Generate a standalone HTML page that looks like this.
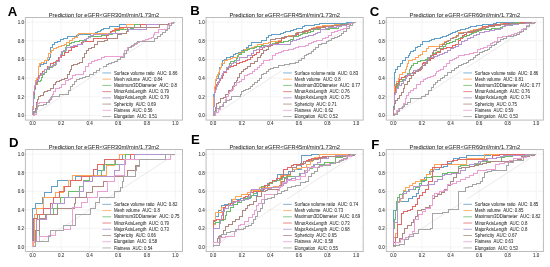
<!DOCTYPE html><html><head><meta charset="utf-8"><style>html,body{margin:0;padding:0;background:#fff;}svg{display:block;filter:blur(0.35px);}text{font-family:"Liberation Sans",sans-serif;}</style></head><body>
<svg width="550" height="267" viewBox="0 0 550 267">
<rect width="550" height="267" fill="#fff"/>
<g><line x1="32.54" y1="17.5" x2="32.54" y2="120.1" stroke="#ececec" stroke-width="0.6"/><line x1="25.4" y1="115.44" x2="182.5" y2="115.44" stroke="#ececec" stroke-width="0.6"/><line x1="61.1" y1="17.5" x2="61.1" y2="120.1" stroke="#ececec" stroke-width="0.6"/><line x1="25.4" y1="96.78" x2="182.5" y2="96.78" stroke="#ececec" stroke-width="0.6"/><line x1="89.67" y1="17.5" x2="89.67" y2="120.1" stroke="#ececec" stroke-width="0.6"/><line x1="25.4" y1="78.13" x2="182.5" y2="78.13" stroke="#ececec" stroke-width="0.6"/><line x1="118.23" y1="17.5" x2="118.23" y2="120.1" stroke="#ececec" stroke-width="0.6"/><line x1="25.4" y1="59.47" x2="182.5" y2="59.47" stroke="#ececec" stroke-width="0.6"/><line x1="146.8" y1="17.5" x2="146.8" y2="120.1" stroke="#ececec" stroke-width="0.6"/><line x1="25.4" y1="40.82" x2="182.5" y2="40.82" stroke="#ececec" stroke-width="0.6"/><line x1="175.36" y1="17.5" x2="175.36" y2="120.1" stroke="#ececec" stroke-width="0.6"/><line x1="25.4" y1="22.16" x2="182.5" y2="22.16" stroke="#ececec" stroke-width="0.6"/><line x1="32.54" y1="115.44" x2="175.36" y2="22.16" stroke="#dcdcdc" stroke-width="0.6"/><path d="M32.54,115.44 L32.66,115.44 L32.66,112.33 L32.9,112.33 L32.9,109.22 L33.14,109.22 L33.14,106.11 L33.25,106.11 L33.34,106.11 L33.34,103.31 L33.52,103.31 L33.52,100.51 L33.7,100.51 L33.7,97.71 L33.88,97.71 L33.88,94.92 L33.97,94.92 L34.15,94.92 L34.15,91.89 L34.5,91.89 L34.5,88.85 L34.86,88.85 L34.86,85.82 L35.22,85.82 L35.22,82.79 L35.4,82.79 L35.79,82.79 L35.79,80.46 L36.58,80.46 L36.58,78.13 L36.97,78.13 L37.75,78.13 L37.75,77.47 L38.54,77.47 L38.54,68.8 L38.9,68.8 L38.9,66.19 L39.25,66.19 L40.4,66.19 L40.4,64.7 L41.54,64.7 L43.04,64.7 L43.04,63.2 L44.54,63.2 L46.04,63.2 L46.04,60.97 L47.54,60.97 L48.61,60.97 L48.61,59.47 L49.68,59.47 L49.82,59.47 L49.82,57.14 L50.11,57.14 L50.11,54.81 L50.25,54.81 L50.25,50.15 L50.96,50.15 L50.96,47.16 L51.68,47.16 L52.61,47.16 L52.61,44.18 L53.54,44.18 L54.61,44.18 L54.61,42.68 L55.68,42.68 L57.18,42.68 L57.18,41.1 L58.68,41.1 L60.6,41.1 L60.6,39.61 L62.53,39.61 L63.96,39.61 L63.96,38.95 L65.39,38.95 L67.1,38.95 L67.1,36.9 L68.82,36.9 L70.6,36.9 L70.6,36.76 L74.17,36.76 L74.17,36.62 L75.96,36.62 L76.74,36.62 L76.74,35.59 L77.53,35.59 L78.6,35.59 L78.6,34.29 L79.67,34.29 L81.17,34.29 L81.17,34.21 L84.17,34.21 L84.17,34.14 L87.17,34.14 L87.17,34.07 L90.17,34.07 L90.17,33.99 L93.17,33.99 L93.17,33.92 L94.67,33.92 L95.1,33.92 L95.1,32.14 L95.52,32.14 L97.02,32.14 L97.02,31.4 L100.02,31.4 L100.02,30.65 L101.52,30.65 L101.52,29.16 L103.38,29.16 L103.38,28.79 L107.09,28.79 L107.09,28.41 L108.95,28.41 L109.31,28.41 L109.31,26.83 L109.66,26.83 L111.16,26.83 L111.16,26.61 L114.16,26.61 L114.16,26.39 L117.16,26.39 L117.16,26.17 L118.66,26.17 L119.09,26.17 L119.09,24.59 L119.52,24.59 L121.04,24.59 L121.04,24.58 L124.08,24.58 L124.08,24.57 L127.13,24.57 L127.13,24.55 L130.17,24.55 L130.17,24.54 L133.21,24.54 L133.21,24.53 L136.26,24.53 L136.26,24.52 L139.3,24.52 L139.3,24.51 L142.35,24.51 L142.35,24.5 L145.39,24.5 L145.39,24.48 L148.43,24.48 L148.43,24.47 L151.48,24.47 L151.48,24.46 L154.52,24.46 L154.52,24.45 L157.56,24.45 L157.56,24.44 L160.61,24.44 L160.61,24.43 L163.65,24.43 L163.65,24.41 L166.7,24.41 L166.7,24.4 L168.22,24.4 L168.93,24.4 L168.93,23.1 L169.65,23.1 L171.07,23.1 L171.07,22.63 L173.93,22.63 L173.93,22.16 L175.36,22.16" fill="none" stroke="#62a0ca" stroke-width="1.0" stroke-opacity="1.0" stroke-linejoin="miter" shape-rendering="crispEdges"/><path d="M32.54,115.44 L32.62,115.44 L32.62,112.5 L32.79,112.5 L32.79,109.57 L32.95,109.57 L32.95,106.64 L33.11,106.64 L33.11,103.71 L33.28,103.71 L33.28,100.78 L33.44,100.78 L33.44,97.85 L33.6,97.85 L33.6,94.92 L33.68,94.92 L33.83,94.92 L33.83,91.47 L34.11,91.47 L34.11,88.01 L34.25,88.01 L34.58,88.01 L34.58,85.4 L35.22,85.4 L35.22,82.79 L35.54,82.79 L35.9,82.79 L35.9,80.46 L36.61,80.46 L36.61,78.13 L36.97,78.13 L37.61,78.13 L37.61,77.47 L38.25,77.47 L38.3,77.47 L38.3,74.96 L38.4,74.96 L38.4,72.44 L38.49,72.44 L38.49,69.92 L38.54,69.92 L38.9,69.92 L38.9,66.19 L39.25,66.19 L39.97,66.19 L39.97,63.95 L40.68,63.95 L41.82,63.95 L41.82,62.46 L42.97,62.46 L44.89,62.46 L44.89,60.97 L46.82,60.97 L47.36,60.97 L47.36,57.98 L48.43,57.98 L48.43,55 L48.97,55 L48.97,53.13 L50.04,53.13 L50.04,52.48 L51.11,52.48 L51.89,52.48 L51.89,50.15 L52.68,50.15 L53.82,50.15 L53.82,48.65 L54.96,48.65 L56.11,48.65 L56.11,47.91 L57.25,47.91 L58.75,47.91 L58.75,46.41 L60.25,46.41 L61.53,46.41 L61.53,45.67 L64.1,45.67 L64.1,44.92 L65.39,44.92 L66.53,44.92 L66.53,42.68 L67.67,42.68 L69.6,42.68 L69.6,40.45 L71.53,40.45 L72.6,40.45 L72.6,38.95 L73.67,38.95 L74.82,38.95 L74.82,37.09 L75.96,37.09 L77.1,37.09 L77.1,34.48 L78.24,34.48 L78.24,33.92 L111.09,33.92 L111.81,33.92 L111.81,31.49 L112.52,31.49 L114.66,31.49 L114.66,28.97 L116.8,28.97 L118.23,28.97 L118.23,28.57 L121.09,28.57 L121.09,28.16 L123.94,28.16 L123.94,27.76 L125.37,27.76 L126.94,27.76 L126.94,24.59 L128.51,24.59 L130.04,24.59 L130.04,24.57 L133.1,24.57 L133.1,24.56 L136.15,24.56 L136.15,24.55 L139.2,24.55 L139.2,24.53 L142.26,24.53 L142.26,24.52 L145.31,24.52 L145.31,24.5 L148.37,24.5 L148.37,24.49 L151.42,24.49 L151.42,24.47 L154.47,24.47 L154.47,24.46 L157.53,24.46 L157.53,24.45 L160.58,24.45 L160.58,24.43 L163.64,24.43 L163.64,24.42 L166.69,24.42 L166.69,24.4 L168.22,24.4 L168.93,24.4 L168.93,23.1 L169.65,23.1 L171.07,23.1 L171.07,22.63 L173.93,22.63 L173.93,22.16 L175.36,22.16" fill="none" stroke="#ffa556" stroke-width="1.0" stroke-opacity="1.0" stroke-linejoin="miter" shape-rendering="crispEdges"/><path d="M32.54,115.44 L32.66,115.44 L32.66,112.56 L32.9,112.56 L32.9,109.67 L33.14,109.67 L33.14,106.79 L33.37,106.79 L33.37,103.91 L33.61,103.91 L33.61,101.03 L33.85,101.03 L33.85,98.15 L34.09,98.15 L34.09,95.27 L34.33,95.27 L34.33,92.39 L34.56,92.39 L34.56,89.51 L34.68,89.51 L35.08,89.51 L35.08,86.85 L35.86,86.85 L35.86,84.19 L36.25,84.19 L37.75,84.19 L37.75,81.95 L39.25,81.95 L40.4,81.95 L40.4,80.46 L41.54,80.46 L41.9,80.46 L41.9,77.43 L42.61,77.43 L42.61,74.4 L42.97,74.4 L44.11,74.4 L44.11,72.16 L46.39,72.16 L46.39,69.92 L47.54,69.92 L49.04,69.92 L49.04,67.68 L50.54,67.68 L52.04,67.68 L52.04,65.44 L53.54,65.44 L55.75,65.44 L55.75,61.71 L57.96,61.71 L59.11,61.71 L59.11,57.98 L60.25,57.98 L60.96,57.98 L60.96,54.62 L61.68,54.62 L62.82,54.62 L62.82,51.64 L63.96,51.64 L65.1,51.64 L65.1,47.91 L66.25,47.91 L66.96,47.91 L66.96,45.67 L67.67,45.67 L69.17,45.67 L69.17,43.43 L70.67,43.43 L71.82,43.43 L71.82,42.68 L74.1,42.68 L74.1,41.94 L75.24,41.94 L76.39,41.94 L76.39,41.19 L77.53,41.19 L79.39,41.19 L79.39,40.82 L83.1,40.82 L83.1,40.45 L84.96,40.45 L86.1,40.45 L86.1,38.53 L88.38,38.53 L88.38,36.62 L89.53,36.62 L99.95,36.62 L101.31,36.62 L101.31,35.97 L104.02,35.97 L104.02,35.32 L106.73,35.32 L106.73,34.66 L109.45,34.66 L109.45,34.01 L112.16,34.01 L112.16,33.36 L113.52,33.36 L115.38,33.36 L115.38,30.09 L117.23,30.09 L119.16,30.09 L119.16,29.16 L121.09,29.16 L128.51,29.16 L130.01,29.16 L130.01,28.41 L133.01,28.41 L133.01,27.67 L134.51,27.67 L134.51,24.59 L136.05,24.59 L136.05,24.57 L139.11,24.57 L139.11,24.55 L142.17,24.55 L142.17,24.54 L145.24,24.54 L145.24,24.52 L148.3,24.52 L148.3,24.5 L151.37,24.5 L151.37,24.49 L154.43,24.49 L154.43,24.47 L157.49,24.47 L157.49,24.45 L160.56,24.45 L160.56,24.44 L163.62,24.44 L163.62,24.42 L166.69,24.42 L166.69,24.4 L168.22,24.4 L168.93,24.4 L168.93,23.1 L169.65,23.1 L171.07,23.1 L171.07,22.63 L173.93,22.63 L173.93,22.16 L175.36,22.16" fill="none" stroke="#6bbc6b" stroke-width="1.0" stroke-opacity="1.0" stroke-linejoin="miter" shape-rendering="crispEdges"/><path d="M32.54,115.44 L32.64,115.44 L32.64,112.5 L32.85,112.5 L32.85,109.57 L33.05,109.57 L33.05,106.64 L33.25,106.64 L33.25,103.71 L33.46,103.71 L33.46,100.78 L33.66,100.78 L33.66,97.85 L33.87,97.85 L33.87,94.92 L33.97,94.92 L34.23,94.92 L34.23,91.59 L34.75,91.59 L34.75,88.26 L35.28,88.26 L35.28,84.94 L35.54,84.94 L36.08,84.94 L36.08,82 L37.15,82 L37.15,79.06 L37.68,79.06 L38.82,79.06 L38.82,75.98 L39.97,75.98 L40.72,75.98 L40.72,73.7 L42.22,73.7 L42.22,71.41 L42.97,71.41 L44.47,71.41 L44.47,69.17 L45.97,69.17 L47.11,69.17 L47.11,66.93 L48.25,66.93 L50.46,66.93 L50.46,63.95 L52.68,63.95 L53.82,63.95 L53.82,62.46 L56.11,62.46 L56.11,60.97 L57.25,60.97 L58.39,60.97 L58.39,57.23 L59.53,57.23 L61.03,57.23 L61.03,55 L62.53,55 L64.39,55 L64.39,52.48 L66.25,52.48 L68.1,52.48 L68.1,50.15 L69.96,50.15 L71.46,50.15 L71.46,47.91 L72.96,47.91 L74.46,47.91 L74.46,46.41 L75.96,46.41 L77.81,46.41 L77.81,44.92 L79.67,44.92 L81.17,44.92 L81.17,42.68 L82.67,42.68 L83.46,42.68 L83.46,41.19 L84.24,41.19 L93.24,41.19 L93.6,41.19 L93.6,38.95 L93.95,38.95 L95.45,38.95 L95.45,38.77 L98.45,38.77 L98.45,38.58 L101.45,38.58 L101.45,38.39 L104.45,38.39 L104.45,38.21 L105.95,38.21 L106.38,38.21 L106.38,35.22 L106.81,35.22 L108.66,35.22 L108.66,33.64 L110.52,33.64 L110.88,33.64 L110.88,31.49 L111.23,31.49 L112.61,31.49 L112.61,30.71 L115.38,30.71 L115.38,29.94 L118.14,29.94 L118.14,29.16 L119.52,29.16 L119.87,29.16 L119.87,27.67 L120.23,27.67 L140.51,27.67 L140.87,27.67 L140.87,24.59 L141.23,24.59 L142.73,24.59 L142.73,24.57 L145.72,24.57 L145.72,24.55 L148.72,24.55 L148.72,24.53 L151.72,24.53 L151.72,24.51 L154.72,24.51 L154.72,24.49 L157.72,24.49 L157.72,24.46 L160.72,24.46 L160.72,24.44 L163.72,24.44 L163.72,24.42 L166.72,24.42 L166.72,24.4 L168.22,24.4 L168.93,24.4 L168.93,23.1 L169.65,23.1 L171.07,23.1 L171.07,22.63 L173.93,22.63 L173.93,22.16 L175.36,22.16" fill="none" stroke="#e26868" stroke-width="1.0" stroke-opacity="1.0" stroke-linejoin="miter" shape-rendering="crispEdges"/><path d="M32.54,115.44 L32.64,115.44 L32.64,112.53 L32.83,112.53 L32.83,109.63 L33.02,109.63 L33.02,106.73 L33.21,106.73 L33.21,103.83 L33.4,103.83 L33.4,100.93 L33.59,100.93 L33.59,98.03 L33.78,98.03 L33.78,95.12 L33.97,95.12 L33.97,92.22 L34.16,92.22 L34.16,89.32 L34.25,89.32 L34.72,89.32 L34.72,86.06 L35.65,86.06 L35.65,82.79 L36.11,82.79 L36.83,82.79 L36.83,80.46 L38.25,80.46 L38.25,78.13 L38.97,78.13 L39.86,78.13 L39.86,75.8 L41.65,75.8 L41.65,73.46 L42.54,73.46 L44.68,73.46 L44.68,69.73 L46.82,69.73 L48.97,69.73 L48.97,66.93 L51.11,66.93 L53.25,66.93 L53.25,64.14 L55.39,64.14 L56.61,64.14 L56.61,61.06 L59.03,61.06 L59.03,57.98 L60.25,57.98 L60.6,57.98 L60.6,54.81 L61.32,54.81 L61.32,51.64 L61.68,51.64 L63.18,51.64 L63.18,50.15 L64.67,50.15 L66.6,50.15 L66.6,47.16 L68.53,47.16 L70.03,47.16 L70.03,46.41 L71.53,46.41 L73.74,46.41 L73.74,45.67 L75.96,45.67 L77.1,45.67 L77.1,44.92 L79.39,44.92 L79.39,44.18 L80.53,44.18 L82.03,44.18 L82.03,41.94 L83.53,41.94 L84.24,41.94 L84.24,39.61 L84.96,39.61 L86.45,39.61 L86.45,38.95 L87.95,38.95 L88.31,38.95 L88.31,37.46 L88.67,37.46 L90.17,37.46 L90.17,35.87 L93.17,35.87 L93.17,34.29 L94.67,34.29 L96.21,34.29 L96.21,34.22 L99.29,34.22 L99.29,34.16 L102.38,34.16 L102.38,34.09 L105.46,34.09 L105.46,34.03 L108.55,34.03 L108.55,33.96 L111.63,33.96 L111.63,33.9 L114.72,33.9 L114.72,33.83 L117.8,33.83 L117.8,33.77 L120.89,33.77 L120.89,33.7 L123.97,33.7 L123.97,33.64 L125.52,33.64 L126.23,33.64 L126.23,31.49 L126.94,31.49 L128.44,31.49 L128.44,29.16 L129.94,29.16 L146.22,29.16 L146.22,24.4 L168.22,24.4 L168.93,24.4 L168.93,23.1 L169.65,23.1 L171.07,23.1 L171.07,22.63 L173.93,22.63 L173.93,22.16 L175.36,22.16" fill="none" stroke="#b495d1" stroke-width="1.0" stroke-opacity="1.0" stroke-linejoin="miter" shape-rendering="crispEdges"/><path d="M32.54,115.44 L33.9,115.44 L33.9,111.24 L35.25,111.24 L35.58,111.24 L35.58,108.67 L36.22,108.67 L36.22,106.11 L36.54,106.11 L36.9,106.11 L36.9,102.01 L37.25,102.01 L37.58,102.01 L37.58,99.39 L38.22,99.39 L38.22,96.78 L38.54,96.78 L40.47,96.78 L40.47,95.48 L42.4,95.48 L43.04,95.48 L43.04,92.86 L43.68,92.86 L44.97,92.86 L44.97,91.47 L46.25,91.47 L47.97,91.47 L47.97,90.25 L49.68,90.25 L50.96,90.25 L50.96,88.39 L52.25,88.39 L53.61,88.39 L53.61,84.94 L54.96,84.94 L55.32,84.94 L55.32,82.79 L55.68,82.79 L56.82,82.79 L56.82,81.21 L57.96,81.21 L59.11,81.21 L59.11,80.13 L61.39,80.13 L61.39,79.06 L62.53,79.06 L64.67,79.06 L64.67,78.13 L66.82,78.13 L67.67,78.13 L67.67,74.4 L68.53,74.4 L69.07,74.4 L69.07,71.78 L70.14,71.78 L70.14,69.17 L70.67,69.17 L71.1,69.17 L71.1,65.44 L71.53,65.44 L73.74,65.44 L73.74,64.7 L75.96,64.7 L77.1,64.7 L77.1,63.58 L79.39,63.58 L79.39,62.46 L80.53,62.46 L82.03,62.46 L82.03,57.98 L83.53,57.98 L84.6,57.98 L84.6,53.88 L85.67,53.88 L86.45,53.88 L86.45,50.15 L87.24,50.15 L88.38,50.15 L88.38,48.65 L89.53,48.65 L91.02,48.65 L91.02,47.16 L92.52,47.16 L94.02,47.16 L94.02,44.18 L95.52,44.18 L97.02,44.18 L97.02,41.94 L98.52,41.94 L100.38,41.94 L100.38,41.19 L104.09,41.19 L104.09,40.45 L105.95,40.45 L107.45,40.45 L107.45,38.95 L108.95,38.95 L110.21,38.95 L110.21,38.7 L112.73,38.7 L112.73,38.46 L115.26,38.46 L115.26,38.21 L116.52,38.21 L117.23,38.21 L117.23,34.29 L117.95,34.29 L119.21,34.29 L119.21,34.07 L121.73,34.07 L121.73,33.85 L124.25,33.85 L124.25,33.64 L125.52,33.64 L126.23,33.64 L126.23,31.49 L126.94,31.49 L127.59,31.49 L127.59,27.11 L128.23,27.11 L159.08,27.11 L159.08,24.4 L168.22,24.4 L168.93,24.4 L168.93,23.1 L169.65,23.1 L171.07,23.1 L171.07,22.63 L173.93,22.63 L173.93,22.16 L175.36,22.16" fill="none" stroke="#ae8981" stroke-width="1.0" stroke-opacity="1.0" stroke-linejoin="miter" shape-rendering="crispEdges"/><path d="M32.54,115.44 L34.25,115.44 L34.25,114.5 L35.97,114.5 L36.29,114.5 L36.29,111.85 L36.93,111.85 L36.93,109.19 L37.25,109.19 L37.4,109.19 L37.4,106.25 L37.68,106.25 L37.68,103.31 L37.83,103.31 L39.15,103.31 L39.15,102.98 L41.79,102.98 L41.79,102.66 L43.11,102.66 L45.04,102.66 L45.04,102.01 L46.97,102.01 L48.32,102.01 L48.32,100.7 L49.68,100.7 L50.61,100.7 L50.61,97.43 L51.54,97.43 L52.25,97.43 L52.25,94.17 L52.96,94.17 L53.61,94.17 L53.61,91.47 L54.25,91.47 L55.89,91.47 L55.89,88.85 L57.53,88.85 L59.18,88.85 L59.18,87.45 L60.82,87.45 L61.75,87.45 L61.75,84.94 L62.68,84.94 L63.32,84.94 L63.32,84.19 L63.96,84.19 L65.39,84.19 L65.39,80.46 L66.82,80.46 L68,80.46 L68,79.29 L70.35,79.29 L70.35,78.13 L71.53,78.13 L72.6,78.13 L72.6,75.24 L73.67,75.24 L75.08,75.24 L75.08,74.96 L77.89,74.96 L77.89,74.68 L80.69,74.68 L80.69,74.4 L82.1,74.4 L83.17,74.4 L83.17,71.41 L84.24,71.41 L85.38,71.41 L85.38,66.93 L86.53,66.93 L88.03,66.93 L88.03,63.95 L89.53,63.95 L91.02,63.95 L91.02,61.71 L92.52,61.71 L94.02,61.71 L94.02,60.13 L95.52,60.13 L97.74,60.13 L97.74,59.47 L99.95,59.47 L101.45,59.47 L101.45,57.98 L102.95,57.98 L104.81,57.98 L104.81,56.21 L106.66,56.21 L122.52,56.21 L123.23,56.21 L123.23,53.13 L123.94,53.13 L124.73,53.13 L124.73,50.15 L125.52,50.15 L127.02,50.15 L127.02,47.91 L128.51,47.91 L130.01,47.91 L130.01,46.41 L131.51,46.41 L133.01,46.41 L133.01,44.18 L134.51,44.18 L136.37,44.18 L136.37,42.68 L138.23,42.68 L139.73,42.68 L139.73,41.19 L141.23,41.19 L142.71,41.19 L142.71,40.26 L145.67,40.26 L145.67,39.33 L148.63,39.33 L148.63,38.39 L151.6,38.39 L151.6,37.46 L153.08,37.46 L153.44,37.46 L153.44,34.38 L153.79,34.38 L154.94,34.38 L154.94,32.14 L156.08,32.14 L158.22,32.14 L158.22,29.91 L160.36,29.91 L162.08,29.91 L162.08,29.53 L165.5,29.53 L165.5,29.16 L167.22,29.16 L167.93,29.16 L167.93,25.43 L168.65,25.43 L169.43,25.43 L169.43,23.1 L170.22,23.1 L171.5,23.1 L171.5,22.63 L174.07,22.63 L174.07,22.16 L175.36,22.16" fill="none" stroke="#eba0d4" stroke-width="1.0" stroke-opacity="1.0" stroke-linejoin="miter" shape-rendering="crispEdges"/><path d="M32.54,115.44 L32.9,115.44 L32.9,113.29 L33.25,113.29 L34.61,113.29 L34.61,112.64 L35.97,112.64 L36.36,112.64 L36.36,109.37 L37.15,109.37 L37.15,106.11 L37.54,106.11 L38.33,106.11 L38.33,105.36 L39.11,105.36 L40.43,105.36 L40.43,105.04 L43.07,105.04 L43.07,104.71 L44.39,104.71 L46.04,104.71 L46.04,102.66 L47.68,102.66 L49.32,102.66 L49.32,99.39 L50.96,99.39 L51.96,99.39 L51.96,96.78 L52.96,96.78 L54.25,96.78 L54.25,96.46 L56.82,96.46 L56.82,96.13 L58.11,96.13 L59.46,96.13 L59.46,94.82 L60.82,94.82 L62.6,94.82 L62.6,94.5 L66.17,94.5 L66.17,94.17 L67.96,94.17 L68.96,94.17 L68.96,90.25 L69.96,90.25 L70.96,90.25 L70.96,86.99 L71.96,86.99 L72.96,86.99 L72.96,84.94 L73.96,84.94 L74.6,84.94 L74.6,81.95 L75.24,81.95 L76.39,81.95 L76.39,79.06 L77.53,79.06 L79.03,79.06 L79.03,78.27 L82.03,78.27 L82.03,77.47 L83.53,77.47 L85.74,77.47 L85.74,76.73 L87.95,76.73 L89.7,76.73 L89.7,74.72 L93.2,74.72 L93.2,72.72 L94.95,72.72 L96.45,72.72 L96.45,70.85 L97.95,70.85 L99.88,70.85 L99.88,68.99 L101.81,68.99 L103.31,68.99 L103.31,66 L104.81,66 L106.02,66 L106.02,64.7 L108.45,64.7 L108.45,63.39 L109.66,63.39 L111.31,63.39 L111.31,62.92 L112.95,62.92 L114.88,62.92 L114.88,61.43 L116.8,61.43 L117.52,61.43 L117.52,59.94 L118.23,59.94 L120.37,59.94 L120.37,57.98 L122.52,57.98 L124.02,57.98 L124.02,53.97 L125.52,53.97 L126.23,53.97 L126.23,50.15 L126.94,50.15 L128.44,50.15 L128.44,47.91 L129.94,47.91 L131.44,47.91 L131.44,45.67 L132.94,45.67 L134.44,45.67 L134.44,43.43 L135.94,43.43 L137.08,43.43 L137.08,41.94 L138.23,41.94 L139.94,41.94 L139.94,41.56 L143.37,41.56 L143.37,41.19 L145.08,41.19 L153.08,41.19 L154.22,41.19 L154.22,38.95 L155.36,38.95 L157.22,38.95 L157.22,36.62 L159.08,36.62 L160.15,36.62 L160.15,34.38 L161.22,34.38 L162.01,34.38 L162.01,32.14 L162.79,32.14 L165,32.14 L165,30.65 L167.22,30.65 L167.58,30.65 L167.58,28.41 L167.93,28.41 L169.08,28.41 L169.08,25.43 L170.22,25.43 L171,25.43 L171,23.1 L171.79,23.1 L173.57,23.1 L173.57,22.16 L175.36,22.16" fill="none" stroke="#a5a5a5" stroke-width="1.0" stroke-opacity="1.0" stroke-linejoin="miter" shape-rendering="crispEdges"/><rect x="25.4" y="17.5" width="157.1" height="102.6" fill="none" stroke="#bcbcbc" stroke-width="1.0"/><line x1="23.8" y1="115.44" x2="25.4" y2="115.44" stroke="#a8a8a8" stroke-width="0.5"/><line x1="32.54" y1="120.1" x2="32.54" y2="121.7" stroke="#a8a8a8" stroke-width="0.5"/><text x="24" y="117.24" font-size="4.5" fill="#333" stroke="#333" stroke-width="0.06" text-anchor="end" textLength="6.28" lengthAdjust="spacingAndGlyphs">0.0</text><text x="32.54" y="125.2" font-size="4.5" fill="#333" stroke="#333" stroke-width="0.06" text-anchor="middle" textLength="6.28" lengthAdjust="spacingAndGlyphs">0.0</text><line x1="23.8" y1="96.78" x2="25.4" y2="96.78" stroke="#a8a8a8" stroke-width="0.5"/><line x1="61.1" y1="120.1" x2="61.1" y2="121.7" stroke="#a8a8a8" stroke-width="0.5"/><text x="24" y="98.58" font-size="4.5" fill="#333" stroke="#333" stroke-width="0.06" text-anchor="end" textLength="6.28" lengthAdjust="spacingAndGlyphs">0.2</text><text x="61.1" y="125.2" font-size="4.5" fill="#333" stroke="#333" stroke-width="0.06" text-anchor="middle" textLength="6.28" lengthAdjust="spacingAndGlyphs">0.2</text><line x1="23.8" y1="78.13" x2="25.4" y2="78.13" stroke="#a8a8a8" stroke-width="0.5"/><line x1="89.67" y1="120.1" x2="89.67" y2="121.7" stroke="#a8a8a8" stroke-width="0.5"/><text x="24" y="79.93" font-size="4.5" fill="#333" stroke="#333" stroke-width="0.06" text-anchor="end" textLength="6.28" lengthAdjust="spacingAndGlyphs">0.4</text><text x="89.67" y="125.2" font-size="4.5" fill="#333" stroke="#333" stroke-width="0.06" text-anchor="middle" textLength="6.28" lengthAdjust="spacingAndGlyphs">0.4</text><line x1="23.8" y1="59.47" x2="25.4" y2="59.47" stroke="#a8a8a8" stroke-width="0.5"/><line x1="118.23" y1="120.1" x2="118.23" y2="121.7" stroke="#a8a8a8" stroke-width="0.5"/><text x="24" y="61.27" font-size="4.5" fill="#333" stroke="#333" stroke-width="0.06" text-anchor="end" textLength="6.28" lengthAdjust="spacingAndGlyphs">0.6</text><text x="118.23" y="125.2" font-size="4.5" fill="#333" stroke="#333" stroke-width="0.06" text-anchor="middle" textLength="6.28" lengthAdjust="spacingAndGlyphs">0.6</text><line x1="23.8" y1="40.82" x2="25.4" y2="40.82" stroke="#a8a8a8" stroke-width="0.5"/><line x1="146.8" y1="120.1" x2="146.8" y2="121.7" stroke="#a8a8a8" stroke-width="0.5"/><text x="24" y="42.62" font-size="4.5" fill="#333" stroke="#333" stroke-width="0.06" text-anchor="end" textLength="6.28" lengthAdjust="spacingAndGlyphs">0.8</text><text x="146.8" y="125.2" font-size="4.5" fill="#333" stroke="#333" stroke-width="0.06" text-anchor="middle" textLength="6.28" lengthAdjust="spacingAndGlyphs">0.8</text><line x1="23.8" y1="22.16" x2="25.4" y2="22.16" stroke="#a8a8a8" stroke-width="0.5"/><line x1="175.36" y1="120.1" x2="175.36" y2="121.7" stroke="#a8a8a8" stroke-width="0.5"/><text x="24" y="23.96" font-size="4.5" fill="#333" stroke="#333" stroke-width="0.06" text-anchor="end" textLength="6.28" lengthAdjust="spacingAndGlyphs">1.0</text><text x="175.36" y="125.2" font-size="4.5" fill="#333" stroke="#333" stroke-width="0.06" text-anchor="middle" textLength="6.28" lengthAdjust="spacingAndGlyphs">1.0</text><text x="103.95" y="16.9" font-size="5.7" fill="#2a2a2a" stroke="#2a2a2a" stroke-width="0.04" text-anchor="middle" textLength="110.5" lengthAdjust="spacingAndGlyphs">Prediction for eGFR&lt;GFR30ml/min/1.73m2</text><rect x="100.6" y="67.5" width="80.4" height="51.0" rx="1" fill="#fff" fill-opacity="0.85"/><line x1="102.4" y1="72.94" x2="111.1" y2="72.94" stroke="#1f77b4" stroke-width="0.8" stroke-opacity="0.7"/><text x="113.9" y="74.54" font-size="4.5" fill="#262626" stroke="#262626" stroke-width="0.03" textLength="63.54" lengthAdjust="spacingAndGlyphs">Surface volume ratio&#160;&#160;AUC: 0.86</text><line x1="102.4" y1="79.17" x2="111.1" y2="79.17" stroke="#ff7f0e" stroke-width="0.8" stroke-opacity="0.7"/><text x="113.9" y="80.77" font-size="4.5" fill="#262626" stroke="#262626" stroke-width="0.03" textLength="48.53" lengthAdjust="spacingAndGlyphs">Mesh volume&#160;&#160;AUC: 0.84</text><line x1="102.4" y1="85.4" x2="111.1" y2="85.4" stroke="#2ca02c" stroke-width="0.8" stroke-opacity="0.7"/><text x="113.9" y="87" font-size="4.5" fill="#262626" stroke="#262626" stroke-width="0.03" textLength="63.19" lengthAdjust="spacingAndGlyphs">Maximum3DDiameter&#160;&#160;AUC: 0.8</text><line x1="102.4" y1="91.63" x2="111.1" y2="91.63" stroke="#d62728" stroke-width="0.8" stroke-opacity="0.7"/><text x="113.9" y="93.23" font-size="4.5" fill="#262626" stroke="#262626" stroke-width="0.03" textLength="55.11" lengthAdjust="spacingAndGlyphs">MinorAxisLength&#160;&#160;AUC: 0.79</text><line x1="102.4" y1="97.86" x2="111.1" y2="97.86" stroke="#9467bd" stroke-width="0.8" stroke-opacity="0.7"/><text x="113.9" y="99.46" font-size="4.5" fill="#262626" stroke="#262626" stroke-width="0.03" textLength="55.03" lengthAdjust="spacingAndGlyphs">MajorAxisLength&#160;&#160;AUC: 0.79</text><line x1="102.4" y1="104.09" x2="111.1" y2="104.09" stroke="#8c564b" stroke-width="0.8" stroke-opacity="0.7"/><text x="113.9" y="105.69" font-size="4.5" fill="#262626" stroke="#262626" stroke-width="0.03" textLength="42.07" lengthAdjust="spacingAndGlyphs">Sphericity&#160;&#160;AUC: 0.69</text><line x1="102.4" y1="110.32" x2="111.1" y2="110.32" stroke="#e377c2" stroke-width="0.8" stroke-opacity="0.7"/><text x="113.9" y="111.92" font-size="4.5" fill="#262626" stroke="#262626" stroke-width="0.03" textLength="38.63" lengthAdjust="spacingAndGlyphs">Flatness&#160;&#160;AUC: 0.56</text><line x1="102.4" y1="116.55" x2="111.1" y2="116.55" stroke="#7f7f7f" stroke-width="0.8" stroke-opacity="0.7"/><text x="113.9" y="118.15" font-size="4.5" fill="#262626" stroke="#262626" stroke-width="0.03" textLength="43.25" lengthAdjust="spacingAndGlyphs">Elongation&#160;&#160;AUC: 0.51</text><text x="7.7" y="16.3" font-size="13.2" font-weight="bold" fill="#000">A</text></g>
<g><line x1="213.24" y1="17.5" x2="213.24" y2="120.1" stroke="#ececec" stroke-width="0.6"/><line x1="206.1" y1="115.44" x2="363.2" y2="115.44" stroke="#ececec" stroke-width="0.6"/><line x1="241.8" y1="17.5" x2="241.8" y2="120.1" stroke="#ececec" stroke-width="0.6"/><line x1="206.1" y1="96.78" x2="363.2" y2="96.78" stroke="#ececec" stroke-width="0.6"/><line x1="270.37" y1="17.5" x2="270.37" y2="120.1" stroke="#ececec" stroke-width="0.6"/><line x1="206.1" y1="78.13" x2="363.2" y2="78.13" stroke="#ececec" stroke-width="0.6"/><line x1="298.93" y1="17.5" x2="298.93" y2="120.1" stroke="#ececec" stroke-width="0.6"/><line x1="206.1" y1="59.47" x2="363.2" y2="59.47" stroke="#ececec" stroke-width="0.6"/><line x1="327.5" y1="17.5" x2="327.5" y2="120.1" stroke="#ececec" stroke-width="0.6"/><line x1="206.1" y1="40.82" x2="363.2" y2="40.82" stroke="#ececec" stroke-width="0.6"/><line x1="356.06" y1="17.5" x2="356.06" y2="120.1" stroke="#ececec" stroke-width="0.6"/><line x1="206.1" y1="22.16" x2="363.2" y2="22.16" stroke="#ececec" stroke-width="0.6"/><line x1="213.24" y1="115.44" x2="356.06" y2="22.16" stroke="#dcdcdc" stroke-width="0.6"/><path d="M213.24,115.44 L213.31,115.44 L213.31,112.33 L213.46,112.33 L213.46,109.22 L213.6,109.22 L213.6,106.11 L213.67,106.11 L213.71,106.11 L213.71,103.31 L213.78,103.31 L213.78,100.51 L213.85,100.51 L213.85,97.71 L213.92,97.71 L213.92,94.92 L213.96,94.92 L214.07,94.92 L214.07,92.34 L214.31,92.34 L214.31,89.76 L214.55,89.76 L214.55,87.17 L214.67,87.17 L215.06,87.17 L215.06,83.82 L215.85,83.82 L215.85,80.46 L216.24,80.46 L216.95,80.46 L216.95,78.13 L217.67,78.13 L218.24,78.13 L218.24,74.77 L219.38,74.77 L219.38,71.41 L219.95,71.41 L219.95,67.68 L221.1,67.68 L221.1,65.44 L222.24,65.44 L222.42,65.44 L222.42,63.2 L222.77,63.2 L222.77,60.97 L222.95,60.97 L224.1,60.97 L224.1,59.47 L225.24,59.47 L226.38,59.47 L226.38,57.98 L227.52,57.98 L228.63,57.98 L228.63,57.47 L230.84,57.47 L230.84,56.95 L231.95,56.95 L233.09,56.95 L233.09,54.62 L234.24,54.62 L235.73,54.62 L235.73,53.97 L237.23,53.97 L238.73,53.97 L238.73,52.48 L240.23,52.48 L241.38,52.48 L241.38,50.98 L242.52,50.98 L243.8,50.98 L243.8,49.07 L246.37,49.07 L246.37,47.16 L247.66,47.16 L248.09,47.16 L248.09,45.67 L248.52,45.67 L251.52,45.67 L251.87,45.67 L251.87,42.68 L252.23,42.68 L261.23,42.68 L261.94,42.68 L261.94,40.45 L262.66,40.45 L264.94,40.45 L266.44,40.45 L266.44,37.46 L267.94,37.46 L268.73,37.46 L268.73,35.13 L269.51,35.13 L271.01,35.13 L271.01,34.88 L274.01,34.88 L274.01,34.63 L277.01,34.63 L277.01,34.38 L278.51,34.38 L280.01,34.38 L280.01,33.26 L283.01,33.26 L283.01,32.14 L284.51,32.14 L285.61,32.14 L285.61,31.82 L287.83,31.82 L287.83,31.49 L288.93,31.49 L290.47,31.49 L290.47,30.33 L293.54,30.33 L293.54,29.16 L295.08,29.16 L296.54,29.16 L296.54,28.79 L299.47,28.79 L299.47,28.41 L300.93,28.41 L302.07,28.41 L302.07,26.17 L303.22,26.17 L304.45,26.17 L304.45,25.99 L306.91,25.99 L306.91,25.8 L309.38,25.8 L309.38,25.61 L311.84,25.61 L311.84,25.43 L313.07,25.43 L314.07,25.43 L314.07,24.68 L315.07,24.68 L316.57,24.68 L316.57,24.31 L319.57,24.31 L319.57,23.94 L321.07,23.94 L322.4,23.94 L322.4,23.84 L325.07,23.84 L325.07,23.75 L327.73,23.75 L327.73,23.66 L330.4,23.66 L330.4,23.56 L333.07,23.56 L333.07,23.47 L335.73,23.47 L335.73,23.38 L338.4,23.38 L338.4,23.28 L341.06,23.28 L341.06,23.19 L343.73,23.19 L343.73,23.1 L345.06,23.1 L346.56,23.1 L346.56,22.77 L349.56,22.77 L349.56,22.44 L351.06,22.44 L352.31,22.44 L352.31,22.3 L354.81,22.3 L354.81,22.16 L356.06,22.16" fill="none" stroke="#62a0ca" stroke-width="1.0" stroke-opacity="1.0" stroke-linejoin="miter" shape-rendering="crispEdges"/><path d="M213.24,115.44 L213.34,115.44 L213.34,112.33 L213.53,112.33 L213.53,109.22 L213.72,109.22 L213.72,106.11 L213.81,106.11 L213.85,106.11 L213.85,103.31 L213.92,103.31 L213.92,100.51 L213.99,100.51 L213.99,97.71 L214.06,97.71 L214.06,94.92 L214.1,94.92 L214.24,94.92 L214.24,92.21 L214.53,92.21 L214.53,89.51 L214.67,89.51 L214.88,89.51 L214.88,86.15 L215.31,86.15 L215.31,82.79 L215.53,82.79 L215.88,82.79 L215.88,79.76 L216.6,79.76 L216.6,76.73 L216.95,76.73 L217.35,76.73 L217.35,74.44 L218.13,74.44 L218.13,72.16 L218.53,72.16 L219.06,72.16 L219.06,69.92 L220.13,69.92 L220.13,67.68 L220.67,67.68 L221.45,67.68 L221.45,63.95 L222.24,63.95 L224.1,63.95 L224.1,60.97 L225.95,60.97 L227.45,60.97 L227.45,59.47 L228.95,59.47 L230.27,59.47 L230.27,58.73 L232.91,58.73 L232.91,57.98 L234.24,57.98 L235.38,57.98 L235.38,57.14 L236.52,57.14 L237.23,57.14 L237.23,55 L237.95,55 L238.73,55 L238.73,53.97 L239.52,53.97 L241.02,53.97 L241.02,51.64 L242.52,51.64 L244.02,51.64 L244.02,49.4 L245.52,49.4 L247.37,49.4 L247.37,48.65 L249.23,48.65 L251.09,48.65 L251.09,47.91 L252.94,47.91 L254.52,47.91 L254.52,46.41 L256.09,46.41 L257.51,46.41 L257.51,44.92 L258.94,44.92 L260.44,44.92 L260.44,44.18 L261.94,44.18 L263.44,44.18 L263.44,43.43 L264.94,43.43 L266.08,43.43 L266.08,43.06 L268.37,43.06 L268.37,42.68 L269.51,42.68 L270.23,42.68 L270.23,41.94 L270.94,41.94 L277.08,41.94 L278.51,41.94 L278.51,40.45 L279.94,40.45 L281.26,40.45 L281.26,38.95 L283.9,38.95 L283.9,37.46 L285.22,37.46 L286.36,37.46 L286.36,36.71 L288.65,36.71 L288.65,35.97 L289.79,35.97 L291.11,35.97 L291.11,35.55 L293.75,35.55 L293.75,35.13 L295.08,35.13 L296.58,35.13 L296.58,32.98 L298.07,32.98 L299.57,32.98 L299.57,32.56 L302.57,32.56 L302.57,32.14 L304.07,32.14 L305.57,32.14 L305.57,31.02 L308.57,31.02 L308.57,29.91 L310.07,29.91 L311.32,29.91 L311.32,28.79 L313.82,28.79 L313.82,27.67 L315.07,27.67 L316.57,27.67 L316.57,26.92 L319.57,26.92 L319.57,26.17 L321.07,26.17 L322.57,26.17 L322.57,25.93 L325.57,25.93 L325.57,25.68 L328.57,25.68 L328.57,25.43 L330.07,25.43 L331.57,25.43 L331.57,25.18 L334.56,25.18 L334.56,24.93 L337.56,24.93 L337.56,24.68 L339.06,24.68 L340.56,24.68 L340.56,24.43 L343.56,24.43 L343.56,24.18 L346.56,24.18 L346.56,23.94 L348.06,23.94 L349.56,23.94 L349.56,23.33 L352.56,23.33 L352.56,22.72 L354.06,22.72 L355.06,22.72 L355.06,22.16 L356.06,22.16" fill="none" stroke="#ffa556" stroke-width="1.0" stroke-opacity="1.0" stroke-linejoin="miter" shape-rendering="crispEdges"/><path d="M213.24,115.44 L213.36,115.44 L213.36,112.33 L213.6,112.33 L213.6,109.22 L213.84,109.22 L213.84,106.11 L213.96,106.11 L214.03,106.11 L214.03,103.39 L214.17,103.39 L214.17,100.66 L214.31,100.66 L214.31,97.94 L214.45,97.94 L214.45,95.21 L214.6,95.21 L214.6,92.49 L214.67,92.49 L215.05,92.49 L215.05,89.97 L215.81,89.97 L215.81,87.45 L216.57,87.45 L216.57,84.94 L216.95,84.94 L218.1,84.94 L218.1,81.21 L219.24,81.21 L219.99,81.21 L219.99,78.59 L221.49,78.59 L221.49,75.98 L222.24,75.98 L223.38,75.98 L223.38,72.16 L224.52,72.16 L226.02,72.16 L226.02,68.43 L227.52,68.43 L228.59,68.43 L228.59,66.19 L229.67,66.19 L229.88,66.19 L229.88,63.95 L230.31,63.95 L230.31,61.71 L230.52,61.71 L231.81,61.71 L231.81,61.34 L234.38,61.34 L234.38,60.97 L235.66,60.97 L236.23,60.97 L236.23,58.73 L237.38,58.73 L237.38,56.49 L237.95,56.49 L238.73,56.49 L238.73,54.81 L239.52,54.81 L241.02,54.81 L241.02,52.48 L242.52,52.48 L244.3,52.48 L244.3,50.15 L246.09,50.15 L247.28,50.15 L247.28,49.52 L249.66,49.52 L249.66,48.9 L252.04,48.9 L252.04,48.28 L253.23,48.28 L254.3,48.28 L254.3,47.58 L256.44,47.58 L256.44,46.88 L257.51,46.88 L258.8,46.88 L258.8,46.27 L261.37,46.27 L261.37,45.67 L262.66,45.67 L264.94,45.67 L266.44,45.67 L266.44,45.3 L269.44,45.3 L269.44,44.92 L270.94,44.92 L272.47,44.92 L272.47,43.8 L275.55,43.8 L275.55,42.68 L277.08,42.68 L278.32,42.68 L278.32,42.43 L280.79,42.43 L280.79,42.19 L283.27,42.19 L283.27,41.94 L284.51,41.94 L285.74,41.94 L285.74,41.16 L288.22,41.16 L288.22,40.38 L290.7,40.38 L290.7,39.61 L291.93,39.61 L293.5,39.61 L293.5,36.62 L295.08,36.62 L296.18,36.62 L296.18,36.29 L298.4,36.29 L298.4,35.97 L299.5,35.97 L300.65,35.97 L300.65,34.8 L302.93,34.8 L302.93,33.64 L304.07,33.64 L305.18,33.64 L305.18,33.31 L307.39,33.31 L307.39,32.98 L308.5,32.98 L310,32.98 L310,31.44 L313,31.44 L313,29.91 L314.5,29.91 L315.76,29.91 L315.76,29.66 L318.28,29.66 L318.28,29.41 L320.81,29.41 L320.81,29.16 L322.07,29.16 L328.5,29.16 L329.99,29.16 L329.99,28.91 L332.99,28.91 L332.99,28.66 L335.99,28.66 L335.99,28.41 L337.49,28.41 L338.28,28.41 L338.28,25.43 L339.06,25.43 L340.56,25.43 L340.56,24.93 L343.56,24.93 L343.56,24.43 L346.56,24.43 L346.56,23.94 L348.06,23.94 L349.39,23.94 L349.39,23.35 L352.06,23.35 L352.06,22.75 L354.73,22.75 L354.73,22.16 L356.06,22.16" fill="none" stroke="#6bbc6b" stroke-width="1.0" stroke-opacity="1.0" stroke-linejoin="miter" shape-rendering="crispEdges"/><path d="M213.24,115.44 L213.36,115.44 L213.36,112.33 L213.6,112.33 L213.6,109.22 L213.84,109.22 L213.84,106.11 L213.96,106.11 L214.03,106.11 L214.03,103.39 L214.17,103.39 L214.17,100.66 L214.31,100.66 L214.31,97.94 L214.45,97.94 L214.45,95.21 L214.6,95.21 L214.6,92.49 L214.67,92.49 L215.05,92.49 L215.05,89.97 L215.81,89.97 L215.81,87.45 L216.57,87.45 L216.57,84.94 L216.95,84.94 L217.7,84.94 L217.7,82.7 L219.2,82.7 L219.2,80.46 L219.95,80.46 L220.7,80.46 L220.7,78.22 L222.2,78.22 L222.2,75.98 L222.95,75.98 L223.74,75.98 L223.74,72.16 L224.52,72.16 L226.02,72.16 L226.02,69.17 L227.52,69.17 L228.63,69.17 L228.63,67.68 L230.84,67.68 L230.84,66.19 L231.95,66.19 L233.45,66.19 L233.45,65.07 L236.45,65.07 L236.45,63.95 L237.95,63.95 L239.45,63.95 L239.45,62.83 L242.45,62.83 L242.45,61.71 L243.95,61.71 L245.09,61.71 L245.09,60.59 L247.37,60.59 L247.37,59.47 L248.52,59.47 L250.02,59.47 L250.02,57.98 L251.52,57.98 L252.59,57.98 L252.59,55.74 L253.66,55.74 L254.09,55.74 L254.09,54.62 L254.52,54.62 L256.01,54.62 L256.01,52.48 L257.51,52.48 L259.01,52.48 L259.01,49.4 L260.51,49.4 L262.01,49.4 L262.01,47.16 L263.51,47.16 L264.62,47.16 L264.62,46.79 L266.83,46.79 L266.83,46.41 L267.94,46.41 L269.44,46.41 L269.44,45.95 L270.94,45.95 L272.47,45.95 L272.47,44.69 L275.55,44.69 L275.55,43.43 L277.08,43.43 L278.58,43.43 L278.58,41.19 L281.58,41.19 L281.58,38.95 L283.08,38.95 L284.19,38.95 L284.19,37.79 L286.4,37.79 L286.4,36.62 L287.51,36.62 L288.77,36.62 L288.77,36.4 L291.29,36.4 L291.29,36.19 L293.81,36.19 L293.81,35.97 L295.08,35.97 L296.18,35.97 L296.18,34.48 L298.4,34.48 L298.4,32.98 L299.5,32.98 L300.65,32.98 L300.65,32.24 L302.93,32.24 L302.93,31.49 L304.07,31.49 L305.18,31.49 L305.18,31.07 L307.39,31.07 L307.39,30.65 L308.5,30.65 L309.64,30.65 L309.64,29.53 L311.93,29.53 L311.93,28.41 L313.07,28.41 L314.18,28.41 L314.18,28.04 L316.39,28.04 L316.39,27.67 L317.5,27.67 L319.07,27.67 L319.07,27.29 L322.21,27.29 L322.21,26.92 L325.35,26.92 L325.35,26.55 L328.5,26.55 L328.5,26.17 L330.07,26.17 L331.53,26.17 L331.53,25.99 L334.46,25.99 L334.46,25.8 L337.39,25.8 L337.39,25.61 L340.31,25.61 L340.31,25.43 L341.78,25.43 L343.03,25.43 L343.03,24.85 L345.53,24.85 L345.53,24.26 L348.03,24.26 L348.03,23.68 L350.52,23.68 L350.52,23.1 L351.77,23.1 L352.85,23.1 L352.85,22.63 L354.99,22.63 L354.99,22.16 L356.06,22.16" fill="none" stroke="#e26868" stroke-width="1.0" stroke-opacity="1.0" stroke-linejoin="miter" shape-rendering="crispEdges"/><path d="M213.24,115.44 L213.36,115.44 L213.36,112.33 L213.6,112.33 L213.6,109.22 L213.84,109.22 L213.84,106.11 L213.96,106.11 L214.03,106.11 L214.03,103.39 L214.17,103.39 L214.17,100.66 L214.31,100.66 L214.31,97.94 L214.45,97.94 L214.45,95.21 L214.6,95.21 L214.6,92.49 L214.67,92.49 L215.24,92.49 L215.24,89.51 L216.38,89.51 L216.38,86.52 L216.95,86.52 L217.53,86.52 L217.53,83.86 L218.67,83.86 L218.67,81.21 L219.24,81.21 L219.99,81.21 L219.99,78.59 L221.49,78.59 L221.49,75.98 L222.24,75.98 L222.81,75.98 L222.81,73.7 L223.95,73.7 L223.95,71.41 L224.52,71.41 L226.38,71.41 L226.38,67.68 L228.24,67.68 L229.34,67.68 L229.34,65.82 L231.56,65.82 L231.56,63.95 L232.66,63.95 L233.99,63.95 L233.99,62.46 L236.63,62.46 L236.63,60.97 L237.95,60.97 L239.88,60.97 L239.88,57.98 L241.8,57.98 L243.95,57.98 L245.45,57.98 L245.45,57.23 L246.95,57.23 L247.73,57.23 L247.73,55.46 L248.52,55.46 L250.02,55.46 L250.02,55 L251.52,55 L251.87,55 L251.87,53.97 L252.23,53.97 L253.37,53.97 L253.37,50.98 L254.52,50.98 L256.01,50.98 L256.01,49.4 L257.51,49.4 L259.01,49.4 L259.01,47.91 L260.51,47.91 L261.62,47.91 L261.62,47.16 L263.83,47.16 L263.83,46.41 L264.94,46.41 L266.44,46.41 L266.44,45.67 L267.94,45.67 L269.44,45.67 L269.44,44.92 L270.94,44.92 L272.29,44.92 L272.29,44.82 L274.98,44.82 L274.98,44.71 L277.67,44.71 L277.67,44.6 L280.37,44.6 L280.37,44.5 L283.06,44.5 L283.06,44.39 L285.75,44.39 L285.75,44.28 L288.44,44.28 L288.44,44.18 L289.79,44.18 L290.51,44.18 L290.51,41.94 L291.22,41.94 L292.93,41.94 L292.93,40.77 L296.36,40.77 L296.36,39.61 L298.07,39.61 L299.57,39.61 L299.57,38.53 L302.57,38.53 L302.57,37.46 L304.07,37.46 L305.57,37.46 L305.57,36.71 L308.57,36.71 L308.57,35.97 L310.07,35.97 L311.18,35.97 L311.18,35.18 L313.39,35.18 L313.39,34.38 L314.5,34.38 L315.64,34.38 L315.64,33.26 L317.93,33.26 L317.93,32.14 L319.07,32.14 L320.93,32.14 L320.93,29.91 L322.78,29.91 L323.43,29.91 L323.43,29.16 L324.07,29.16 L325.57,29.16 L325.57,28.41 L328.57,28.41 L328.57,27.67 L330.07,27.67 L331.3,27.67 L331.3,27.42 L333.78,27.42 L333.78,27.17 L336.25,27.17 L336.25,26.92 L337.49,26.92 L338.75,26.92 L338.75,26.42 L341.28,26.42 L341.28,25.93 L343.8,25.93 L343.8,25.43 L345.06,25.43 L346.17,25.43 L346.17,24.68 L348.38,24.68 L348.38,23.94 L349.49,23.94 L350.63,23.94 L350.63,23.33 L352.92,23.33 L352.92,22.72 L354.06,22.72 L355.06,22.72 L355.06,22.16 L356.06,22.16" fill="none" stroke="#b495d1" stroke-width="1.0" stroke-opacity="1.0" stroke-linejoin="miter" shape-rendering="crispEdges"/><path d="M213.24,115.44 L213.6,115.44 L213.6,114.5 L213.96,114.5 L214.45,114.5 L214.45,111.19 L215.45,111.19 L215.45,107.88 L215.95,107.88 L216.6,107.88 L216.6,103.96 L217.24,103.96 L218.53,103.96 L218.53,102.01 L219.81,102.01 L220.45,102.01 L220.45,98.09 L221.1,98.09 L223.02,98.09 L223.02,97.43 L224.95,97.43 L225.95,97.43 L225.95,94.17 L226.95,94.17 L228.67,94.17 L228.67,90.25 L230.38,90.25 L231.24,90.25 L232.38,90.25 L232.38,86.52 L233.52,86.52 L234.59,86.52 L234.59,82.79 L235.66,82.79 L236.23,82.79 L236.23,80.13 L237.38,80.13 L237.38,77.47 L237.95,77.47 L239.45,77.47 L239.45,73.74 L240.95,73.74 L241.7,73.74 L241.7,71.46 L243.2,71.46 L243.2,69.17 L243.95,69.17 L245.09,69.17 L245.09,68.05 L247.37,68.05 L247.37,66.93 L248.52,66.93 L250.37,66.93 L250.37,63.95 L252.23,63.95 L254.16,63.95 L254.16,61.71 L256.09,61.71 L257.87,61.71 L257.87,57.98 L259.66,57.98 L260.44,57.98 L260.44,55 L261.23,55 L261.58,55 L261.58,53.13 L261.94,53.13 L263.08,53.13 L263.08,50.15 L264.23,50.15 L266.08,50.15 L266.08,49.4 L267.94,49.4 L268.69,49.4 L268.69,46.79 L270.19,46.79 L270.19,44.18 L270.94,44.18 L270.94,39.61 L272.47,39.61 L272.47,39.28 L275.55,39.28 L275.55,38.95 L277.08,38.95 L278.58,38.95 L278.58,38.18 L281.58,38.18 L281.58,37.4 L284.58,37.4 L284.58,36.62 L286.08,36.62 L291.22,36.62 L292.54,36.62 L292.54,35.13 L295.18,35.13 L295.18,33.64 L296.5,33.64 L297.29,33.64 L297.29,32.14 L298.07,32.14 L302.5,32.14 L304,32.14 L304,30.65 L305.5,30.65 L307,30.65 L307,30.28 L310,30.28 L310,29.91 L311.5,29.91 L312.64,29.91 L312.64,29.16 L314.93,29.16 L314.93,28.41 L316.07,28.41 L317.5,28.41 L317.5,28.04 L320.35,28.04 L320.35,27.67 L323.21,27.67 L323.21,27.29 L324.64,27.29 L325.89,27.29 L325.89,26.94 L328.39,26.94 L328.39,26.59 L330.89,26.59 L330.89,26.24 L333.39,26.24 L333.39,25.89 L334.64,25.89 L336.06,25.89 L336.06,25.52 L338.92,25.52 L338.92,25.15 L341.78,25.15 L341.78,24.78 L344.63,24.78 L344.63,24.4 L347.49,24.4 L347.49,24.03 L348.92,24.03 L350.11,24.03 L350.11,23.41 L352.49,23.41 L352.49,22.79 L354.87,22.79 L354.87,22.16 L356.06,22.16" fill="none" stroke="#ae8981" stroke-width="1.0" stroke-opacity="1.0" stroke-linejoin="miter" shape-rendering="crispEdges"/><path d="M213.24,115.44 L213.6,115.44 L213.6,115.06 L213.96,115.06 L215.24,115.06 L215.24,112.54 L216.53,112.54 L218.17,112.54 L218.17,109.19 L219.81,109.19 L220.63,109.19 L220.63,106.95 L222.27,106.95 L222.27,104.71 L223.1,104.71 L223.88,104.71 L223.88,102.05 L225.45,102.05 L225.45,99.39 L226.24,99.39 L226.92,99.39 L226.92,96.69 L228.27,96.69 L228.27,93.98 L228.95,93.98 L229.88,93.98 L229.88,91.75 L231.74,91.75 L231.74,89.51 L232.66,89.51 L233.81,89.51 L233.81,85.68 L234.95,85.68 L236.45,85.68 L236.45,82.79 L237.95,82.79 L239.09,82.79 L239.09,81.25 L241.38,81.25 L241.38,79.71 L242.52,79.71 L244.38,79.71 L244.38,75.98 L246.23,75.98 L247.34,75.98 L247.34,74.49 L249.55,74.49 L249.55,73 L250.66,73 L252.02,73 L252.02,71.46 L254.73,71.46 L254.73,69.92 L256.09,69.92 L257.37,69.92 L257.37,67.68 L259.94,67.68 L259.94,65.44 L261.23,65.44 L261.98,65.44 L261.98,63.2 L263.48,63.2 L263.48,60.97 L264.23,60.97 L266.08,60.97 L266.08,60.22 L267.94,60.22 L269.44,60.22 L269.44,59.01 L270.94,59.01 L272.51,59.01 L272.51,55.46 L274.08,55.46 L275.94,55.46 L275.94,53.97 L277.79,53.97 L278.9,53.97 L278.9,52.8 L281.12,52.8 L281.12,51.64 L282.22,51.64 L283.36,51.64 L283.36,50.89 L285.65,50.89 L285.65,50.15 L286.79,50.15 L288.08,50.15 L288.08,49.68 L290.65,49.68 L290.65,49.21 L291.93,49.21 L293.25,49.21 L293.25,48.37 L295.9,48.37 L295.9,47.53 L297.22,47.53 L298.36,47.53 L298.36,46.97 L300.65,46.97 L300.65,46.41 L301.79,46.41 L302.9,46.41 L302.9,46.04 L305.11,46.04 L305.11,45.67 L306.22,45.67 L308.14,45.67 L308.14,43.43 L310.07,43.43 L311.18,43.43 L311.18,42.59 L313.39,42.59 L313.39,41.75 L314.5,41.75 L316.14,41.75 L316.14,40.91 L319.43,40.91 L319.43,40.07 L321.07,40.07 L322.57,40.07 L322.57,38.67 L325.57,38.67 L325.57,37.27 L327.07,37.27 L328.57,37.27 L328.57,35.13 L331.57,35.13 L331.57,32.98 L333.07,32.98 L334.56,32.98 L334.56,31.82 L337.56,31.82 L337.56,30.65 L339.06,30.65 L340.56,30.65 L340.56,29.53 L343.56,29.53 L343.56,28.41 L345.06,28.41 L346.56,28.41 L346.56,26.17 L348.06,26.17 L349.56,26.17 L349.56,23.94 L351.06,23.94 L353.06,23.94 L353.06,22.63 L355.06,22.63 L355.56,22.63 L355.56,22.16 L356.06,22.16" fill="none" stroke="#eba0d4" stroke-width="1.0" stroke-opacity="1.0" stroke-linejoin="miter" shape-rendering="crispEdges"/><path d="M213.24,115.44 L213.6,115.44 L213.6,115.06 L213.96,115.06 L214.95,115.06 L214.95,111.24 L215.95,111.24 L216.88,111.24 L216.88,108.63 L217.81,108.63 L219.45,108.63 L219.45,106.02 L221.1,106.02 L223.02,106.02 L223.02,102.66 L224.95,102.66 L226.31,102.66 L226.31,100.7 L227.67,100.7 L229.31,100.7 L229.31,99.39 L230.95,99.39 L231.95,99.39 L231.95,96.78 L232.95,96.78 L234.14,96.78 L234.14,96.56 L236.52,96.56 L236.52,96.35 L238.9,96.35 L238.9,96.13 L240.09,96.13 L240.73,96.13 L240.73,94.17 L241.38,94.17 L241.95,94.17 L241.95,91.75 L242.52,91.75 L243.63,91.75 L243.63,90.63 L245.84,90.63 L245.84,89.51 L246.95,89.51 L248.09,89.51 L248.09,88.01 L250.37,88.01 L250.37,86.52 L251.52,86.52 L252.66,86.52 L252.66,84.66 L254.94,84.66 L254.94,82.79 L256.09,82.79 L257.19,82.79 L257.19,80.46 L259.41,80.46 L259.41,78.13 L260.51,78.13 L261.58,78.13 L261.58,74.4 L262.66,74.4 L263.8,74.4 L263.8,73.93 L264.94,73.93 L266.08,73.93 L266.08,71.69 L268.37,71.69 L268.37,69.45 L269.51,69.45 L270.77,69.45 L270.77,68.71 L273.3,68.71 L273.3,67.96 L275.82,67.96 L275.82,67.21 L277.08,67.21 L278.51,67.21 L278.51,65.72 L279.94,65.72 L281.47,65.72 L281.47,65.35 L284.54,65.35 L284.54,64.98 L286.08,64.98 L287.19,64.98 L287.19,64.23 L289.4,64.23 L289.4,63.48 L290.51,63.48 L292.01,63.48 L292.01,63.11 L295,63.11 L295,62.74 L296.5,62.74 L298.36,62.74 L298.36,60.5 L300.22,60.5 L301.36,60.5 L301.36,58.17 L302.5,58.17 L304,58.17 L304,55.93 L305.5,55.93 L306.64,55.93 L306.64,54.81 L308.93,54.81 L308.93,53.69 L310.07,53.69 L311.18,53.69 L311.18,51.82 L313.39,51.82 L313.39,49.96 L314.5,49.96 L315.64,49.96 L315.64,47.16 L316.78,47.16 L318.64,47.16 L318.64,44.18 L320.5,44.18 L321.64,44.18 L321.64,43.8 L323.93,43.8 L323.93,43.43 L325.07,43.43 L326.32,43.43 L326.32,41.94 L328.82,41.94 L328.82,40.45 L330.07,40.45 L331.57,40.45 L331.57,38.95 L334.56,38.95 L334.56,37.46 L336.06,37.46 L337.17,37.46 L337.17,36.29 L339.39,36.29 L339.39,35.13 L340.49,35.13 L341.63,35.13 L341.63,33.31 L343.92,33.31 L343.92,31.49 L345.06,31.49 L346.56,31.49 L346.56,28.41 L348.06,28.41 L349.56,28.41 L349.56,25.43 L351.06,25.43 L352.85,25.43 L352.85,22.63 L354.63,22.63 L355.35,22.63 L355.35,22.16 L356.06,22.16" fill="none" stroke="#a5a5a5" stroke-width="1.0" stroke-opacity="1.0" stroke-linejoin="miter" shape-rendering="crispEdges"/><rect x="206.1" y="17.5" width="157.1" height="102.6" fill="none" stroke="#bcbcbc" stroke-width="1.0"/><line x1="204.5" y1="115.44" x2="206.1" y2="115.44" stroke="#a8a8a8" stroke-width="0.5"/><line x1="213.24" y1="120.1" x2="213.24" y2="121.7" stroke="#a8a8a8" stroke-width="0.5"/><text x="204.7" y="117.24" font-size="4.5" fill="#333" stroke="#333" stroke-width="0.06" text-anchor="end" textLength="6.28" lengthAdjust="spacingAndGlyphs">0.0</text><text x="213.24" y="125.2" font-size="4.5" fill="#333" stroke="#333" stroke-width="0.06" text-anchor="middle" textLength="6.28" lengthAdjust="spacingAndGlyphs">0.0</text><line x1="204.5" y1="96.78" x2="206.1" y2="96.78" stroke="#a8a8a8" stroke-width="0.5"/><line x1="241.8" y1="120.1" x2="241.8" y2="121.7" stroke="#a8a8a8" stroke-width="0.5"/><text x="204.7" y="98.58" font-size="4.5" fill="#333" stroke="#333" stroke-width="0.06" text-anchor="end" textLength="6.28" lengthAdjust="spacingAndGlyphs">0.2</text><text x="241.8" y="125.2" font-size="4.5" fill="#333" stroke="#333" stroke-width="0.06" text-anchor="middle" textLength="6.28" lengthAdjust="spacingAndGlyphs">0.2</text><line x1="204.5" y1="78.13" x2="206.1" y2="78.13" stroke="#a8a8a8" stroke-width="0.5"/><line x1="270.37" y1="120.1" x2="270.37" y2="121.7" stroke="#a8a8a8" stroke-width="0.5"/><text x="204.7" y="79.93" font-size="4.5" fill="#333" stroke="#333" stroke-width="0.06" text-anchor="end" textLength="6.28" lengthAdjust="spacingAndGlyphs">0.4</text><text x="270.37" y="125.2" font-size="4.5" fill="#333" stroke="#333" stroke-width="0.06" text-anchor="middle" textLength="6.28" lengthAdjust="spacingAndGlyphs">0.4</text><line x1="204.5" y1="59.47" x2="206.1" y2="59.47" stroke="#a8a8a8" stroke-width="0.5"/><line x1="298.93" y1="120.1" x2="298.93" y2="121.7" stroke="#a8a8a8" stroke-width="0.5"/><text x="204.7" y="61.27" font-size="4.5" fill="#333" stroke="#333" stroke-width="0.06" text-anchor="end" textLength="6.28" lengthAdjust="spacingAndGlyphs">0.6</text><text x="298.93" y="125.2" font-size="4.5" fill="#333" stroke="#333" stroke-width="0.06" text-anchor="middle" textLength="6.28" lengthAdjust="spacingAndGlyphs">0.6</text><line x1="204.5" y1="40.82" x2="206.1" y2="40.82" stroke="#a8a8a8" stroke-width="0.5"/><line x1="327.5" y1="120.1" x2="327.5" y2="121.7" stroke="#a8a8a8" stroke-width="0.5"/><text x="204.7" y="42.62" font-size="4.5" fill="#333" stroke="#333" stroke-width="0.06" text-anchor="end" textLength="6.28" lengthAdjust="spacingAndGlyphs">0.8</text><text x="327.5" y="125.2" font-size="4.5" fill="#333" stroke="#333" stroke-width="0.06" text-anchor="middle" textLength="6.28" lengthAdjust="spacingAndGlyphs">0.8</text><line x1="204.5" y1="22.16" x2="206.1" y2="22.16" stroke="#a8a8a8" stroke-width="0.5"/><line x1="356.06" y1="120.1" x2="356.06" y2="121.7" stroke="#a8a8a8" stroke-width="0.5"/><text x="204.7" y="23.96" font-size="4.5" fill="#333" stroke="#333" stroke-width="0.06" text-anchor="end" textLength="6.28" lengthAdjust="spacingAndGlyphs">1.0</text><text x="356.06" y="125.2" font-size="4.5" fill="#333" stroke="#333" stroke-width="0.06" text-anchor="middle" textLength="6.28" lengthAdjust="spacingAndGlyphs">1.0</text><text x="284.65" y="16.9" font-size="5.7" fill="#2a2a2a" stroke="#2a2a2a" stroke-width="0.04" text-anchor="middle" textLength="110.5" lengthAdjust="spacingAndGlyphs">Prediction for eGFR&lt;GFR45ml/min/1.73m2</text><rect x="281.3" y="67.5" width="80.4" height="51.0" rx="1" fill="#fff" fill-opacity="0.85"/><line x1="283.1" y1="72.94" x2="291.8" y2="72.94" stroke="#1f77b4" stroke-width="0.8" stroke-opacity="0.7"/><text x="294.6" y="74.54" font-size="4.5" fill="#262626" stroke="#262626" stroke-width="0.03" textLength="63.54" lengthAdjust="spacingAndGlyphs">Surface volume ratio&#160;&#160;AUC: 0.83</text><line x1="283.1" y1="79.17" x2="291.8" y2="79.17" stroke="#ff7f0e" stroke-width="0.8" stroke-opacity="0.7"/><text x="294.6" y="80.77" font-size="4.5" fill="#262626" stroke="#262626" stroke-width="0.03" textLength="46.02" lengthAdjust="spacingAndGlyphs">Mesh volume&#160;&#160;AUC: 0.8</text><line x1="283.1" y1="85.4" x2="291.8" y2="85.4" stroke="#2ca02c" stroke-width="0.8" stroke-opacity="0.7"/><text x="294.6" y="87" font-size="4.5" fill="#262626" stroke="#262626" stroke-width="0.03" textLength="65.7" lengthAdjust="spacingAndGlyphs">Maximum3DDiameter&#160;&#160;AUC: 0.77</text><line x1="283.1" y1="91.63" x2="291.8" y2="91.63" stroke="#d62728" stroke-width="0.8" stroke-opacity="0.7"/><text x="294.6" y="93.23" font-size="4.5" fill="#262626" stroke="#262626" stroke-width="0.03" textLength="55.11" lengthAdjust="spacingAndGlyphs">MinorAxisLength&#160;&#160;AUC: 0.76</text><line x1="283.1" y1="97.86" x2="291.8" y2="97.86" stroke="#9467bd" stroke-width="0.8" stroke-opacity="0.7"/><text x="294.6" y="99.46" font-size="4.5" fill="#262626" stroke="#262626" stroke-width="0.03" textLength="55.03" lengthAdjust="spacingAndGlyphs">MajorAxisLength&#160;&#160;AUC: 0.75</text><line x1="283.1" y1="104.09" x2="291.8" y2="104.09" stroke="#8c564b" stroke-width="0.8" stroke-opacity="0.7"/><text x="294.6" y="105.69" font-size="4.5" fill="#262626" stroke="#262626" stroke-width="0.03" textLength="42.07" lengthAdjust="spacingAndGlyphs">Sphericity&#160;&#160;AUC: 0.71</text><line x1="283.1" y1="110.32" x2="291.8" y2="110.32" stroke="#e377c2" stroke-width="0.8" stroke-opacity="0.7"/><text x="294.6" y="111.92" font-size="4.5" fill="#262626" stroke="#262626" stroke-width="0.03" textLength="38.63" lengthAdjust="spacingAndGlyphs">Flatness&#160;&#160;AUC: 0.62</text><line x1="283.1" y1="116.55" x2="291.8" y2="116.55" stroke="#7f7f7f" stroke-width="0.8" stroke-opacity="0.7"/><text x="294.6" y="118.15" font-size="4.5" fill="#262626" stroke="#262626" stroke-width="0.03" textLength="43.25" lengthAdjust="spacingAndGlyphs">Elongation&#160;&#160;AUC: 0.52</text><text x="190.3" y="14.7" font-size="13.2" font-weight="bold" fill="#000">B</text></g>
<g><line x1="393.44" y1="17.5" x2="393.44" y2="120.1" stroke="#ececec" stroke-width="0.6"/><line x1="386.3" y1="115.44" x2="543.4" y2="115.44" stroke="#ececec" stroke-width="0.6"/><line x1="422" y1="17.5" x2="422" y2="120.1" stroke="#ececec" stroke-width="0.6"/><line x1="386.3" y1="96.78" x2="543.4" y2="96.78" stroke="#ececec" stroke-width="0.6"/><line x1="450.57" y1="17.5" x2="450.57" y2="120.1" stroke="#ececec" stroke-width="0.6"/><line x1="386.3" y1="78.13" x2="543.4" y2="78.13" stroke="#ececec" stroke-width="0.6"/><line x1="479.13" y1="17.5" x2="479.13" y2="120.1" stroke="#ececec" stroke-width="0.6"/><line x1="386.3" y1="59.47" x2="543.4" y2="59.47" stroke="#ececec" stroke-width="0.6"/><line x1="507.7" y1="17.5" x2="507.7" y2="120.1" stroke="#ececec" stroke-width="0.6"/><line x1="386.3" y1="40.82" x2="543.4" y2="40.82" stroke="#ececec" stroke-width="0.6"/><line x1="536.26" y1="17.5" x2="536.26" y2="120.1" stroke="#ececec" stroke-width="0.6"/><line x1="386.3" y1="22.16" x2="543.4" y2="22.16" stroke="#ececec" stroke-width="0.6"/><line x1="393.44" y1="115.44" x2="536.26" y2="22.16" stroke="#dcdcdc" stroke-width="0.6"/><path d="M393.44,115.44 L393.54,115.44 L393.54,112.33 L393.73,112.33 L393.73,109.22 L393.92,109.22 L393.92,106.11 L394.01,106.11 L394.01,89.51 L394.19,89.51 L394.19,87.22 L394.55,87.22 L394.55,84.94 L394.73,84.94 L394.73,72.16 L395.44,72.16 L395.44,69.92 L396.15,69.92 L397.65,69.92 L397.65,66.93 L399.15,66.93 L400.3,66.93 L400.3,63.2 L401.44,63.2 L402.94,63.2 L402.94,60.97 L404.44,60.97 L405.94,60.97 L405.94,57.98 L407.44,57.98 L408.22,57.98 L408.22,55 L409.01,55 L409.01,53.97 L410.51,53.97 L410.51,51.64 L412.01,51.64 L413.15,51.64 L413.15,50.15 L414.29,50.15 L415.01,50.15 L415.01,47.16 L415.72,47.16 L417.22,47.16 L417.22,46.41 L418.72,46.41 L420.22,46.41 L420.22,44.92 L421.72,44.92 L422.43,44.92 L422.43,41.94 L423.15,41.94 L424.47,41.94 L424.47,41.56 L427.11,41.56 L427.11,41.19 L428.43,41.19 L429.57,41.19 L429.57,40.4 L431.86,40.4 L431.86,39.61 L433,39.61 L434.5,39.61 L434.5,38.91 L437.5,38.91 L437.5,38.21 L439,38.21 L440.14,38.21 L440.14,37.41 L442.43,37.41 L442.43,36.62 L443.57,36.62 L445,36.62 L446.14,36.62 L446.14,35.5 L448.43,35.5 L448.43,34.38 L449.57,34.38 L450.68,34.38 L450.68,33.68 L452.89,33.68 L452.89,32.98 L454,32.98 L455.14,32.98 L455.14,31.82 L457.42,31.82 L457.42,30.65 L458.57,30.65 L460.07,30.65 L460.07,29.91 L463.06,29.91 L463.06,29.16 L464.56,29.16 L465.8,29.16 L465.8,28.41 L468.28,28.41 L468.28,27.67 L470.75,27.67 L470.75,26.92 L471.99,26.92 L473.49,26.92 L473.49,26.17 L476.49,26.17 L476.49,25.43 L477.99,25.43 L479.49,25.43 L479.49,25.18 L482.49,25.18 L482.49,24.93 L485.49,24.93 L485.49,24.68 L486.99,24.68 L488.25,24.68 L488.25,24.43 L490.77,24.43 L490.77,24.18 L493.29,24.18 L493.29,23.94 L494.56,23.94 L496.41,23.94 L496.41,22.44 L498.27,22.44 L499.63,22.44 L499.63,22.42 L502.34,22.42 L502.34,22.4 L505.05,22.4 L505.05,22.38 L507.77,22.38 L507.77,22.36 L510.48,22.36 L510.48,22.34 L513.19,22.34 L513.19,22.32 L515.91,22.32 L515.91,22.3 L518.62,22.3 L518.62,22.28 L521.33,22.28 L521.33,22.26 L524.05,22.26 L524.05,22.24 L526.76,22.24 L526.76,22.22 L529.48,22.22 L529.48,22.2 L532.19,22.2 L532.19,22.18 L534.9,22.18 L534.9,22.16 L536.26,22.16" fill="none" stroke="#62a0ca" stroke-width="1.0" stroke-opacity="1.0" stroke-linejoin="miter" shape-rendering="crispEdges"/><path d="M393.44,115.44 L393.56,115.44 L393.56,112.33 L393.8,112.33 L393.8,109.22 L394.04,109.22 L394.04,106.11 L394.15,106.11 L394.2,106.11 L394.2,103.34 L394.3,103.34 L394.3,100.57 L394.39,100.57 L394.39,97.81 L394.49,97.81 L394.49,95.04 L394.58,95.04 L394.58,92.27 L394.68,92.27 L394.68,89.51 L394.73,89.51 L394.9,89.51 L394.9,86.85 L395.26,86.85 L395.26,84.19 L395.44,84.19 L396.23,84.19 L396.23,81.21 L397.01,81.21 L398.08,81.21 L398.08,78.13 L399.15,78.13 L399.94,78.13 L399.94,74.4 L400.72,74.4 L402.58,74.4 L402.58,72.16 L404.44,72.16 L405.58,72.16 L405.58,69.92 L406.72,69.92 L406.9,69.92 L406.9,66.56 L407.26,66.56 L407.26,63.2 L407.44,63.2 L408.22,63.2 L408.22,60.97 L409.01,60.97 L410.11,60.97 L410.11,60.22 L412.33,60.22 L412.33,59.47 L413.44,59.47 L415.36,59.47 L415.36,57.23 L417.29,57.23 L418.36,57.23 L418.36,55 L419.43,55 L420.22,55 L420.22,54.62 L421,54.62 L422.86,54.62 L422.86,51.64 L424.72,51.64 L426.22,51.64 L426.22,48.65 L427.72,48.65 L428.86,48.65 L428.86,46.41 L430,46.41 L437.57,46.41 L439.43,46.41 L439.43,44.92 L441.28,44.92 L442.39,44.92 L442.39,43.43 L444.61,43.43 L444.61,41.94 L445.71,41.94 L447.64,41.94 L447.64,40.45 L449.57,40.45 L450.68,40.45 L450.68,38.95 L452.89,38.95 L452.89,37.46 L454,37.46 L455.5,37.46 L455.5,36.62 L457,36.62 L458.49,36.62 L458.49,32.98 L459.99,32.98 L464.56,32.98 L465.67,32.98 L465.67,32.24 L467.88,32.24 L467.88,31.49 L468.99,31.49 L470.49,31.49 L470.49,30.7 L473.49,30.7 L473.49,29.91 L474.99,29.91 L476.13,29.91 L476.13,29.16 L478.42,29.16 L478.42,28.41 L479.56,28.41 L481.06,28.41 L481.06,27.67 L484.06,27.67 L484.06,26.92 L485.56,26.92 L486.8,26.92 L486.8,26.42 L489.27,26.42 L489.27,25.93 L491.75,25.93 L491.75,25.43 L492.99,25.43 L494.48,25.43 L494.48,24.93 L497.48,24.93 L497.48,24.43 L500.48,24.43 L500.48,23.94 L501.98,23.94 L503.27,23.94 L503.27,23.77 L505.84,23.77 L505.84,23.6 L508.41,23.6 L508.41,23.43 L510.98,23.43 L510.98,23.26 L513.55,23.26 L513.55,23.1 L514.84,23.1 L516.18,23.1 L516.18,22.98 L518.85,22.98 L518.85,22.86 L521.53,22.86 L521.53,22.75 L524.21,22.75 L524.21,22.63 L526.89,22.63 L526.89,22.51 L529.56,22.51 L529.56,22.4 L532.24,22.4 L532.24,22.28 L534.92,22.28 L534.92,22.16 L536.26,22.16" fill="none" stroke="#ffa556" stroke-width="1.0" stroke-opacity="1.0" stroke-linejoin="miter" shape-rendering="crispEdges"/><path d="M393.44,115.44 L393.56,115.44 L393.56,112.33 L393.8,112.33 L393.8,109.22 L394.04,109.22 L394.04,106.11 L394.15,106.11 L394.23,106.11 L394.23,103.31 L394.37,103.31 L394.37,100.51 L394.51,100.51 L394.51,97.71 L394.65,97.71 L394.65,94.92 L394.8,94.92 L394.8,92.12 L394.87,92.12 L395.19,92.12 L395.19,89.65 L395.83,89.65 L395.83,87.17 L396.15,87.17 L397.3,87.17 L397.3,84.94 L398.44,84.94 L399.94,84.94 L399.94,81.21 L401.44,81.21 L402.94,81.21 L402.94,79.71 L404.44,79.71 L405.22,79.71 L405.22,75.98 L406.01,75.98 L407.51,75.98 L407.51,73 L409.01,73 L409.79,73 L409.79,69.92 L410.58,69.92 L410.94,69.92 L410.94,67.68 L411.65,67.68 L411.65,65.44 L412.01,65.44 L413.69,65.44 L413.69,63.58 L417.04,63.58 L417.04,61.71 L418.72,61.71 L420.04,61.71 L420.04,60.97 L422.68,60.97 L422.68,60.22 L424,60.22 L425.33,60.22 L425.33,59.1 L427.97,59.1 L427.97,57.98 L429.29,57.98 L431.14,57.98 L431.14,55.74 L433,55.74 L433.79,55.74 L433.79,53.97 L434.57,53.97 L435.68,53.97 L435.68,52.8 L437.89,52.8 L437.89,51.64 L439,51.64 L440.5,51.64 L440.5,48.65 L442,48.65 L443.5,48.65 L443.5,46.41 L445,46.41 L445,44.92 L446.5,44.92 L446.5,43.8 L449.5,43.8 L449.5,42.68 L451,42.68 L452.5,42.68 L452.5,41.14 L455.5,41.14 L455.5,39.61 L457,39.61 L458.26,39.61 L458.26,38.61 L460.78,38.61 L460.78,37.62 L463.3,37.62 L463.3,36.62 L464.56,36.62 L466.06,36.62 L466.06,35.5 L469.06,35.5 L469.06,34.38 L470.56,34.38 L471.67,34.38 L471.67,33.26 L473.88,33.26 L473.88,32.14 L474.99,32.14 L476.25,32.14 L476.25,31.4 L478.77,31.4 L478.77,30.65 L481.3,30.65 L481.3,29.91 L482.56,29.91 L483.8,29.91 L483.8,29.66 L486.27,29.66 L486.27,29.41 L488.75,29.41 L488.75,29.16 L489.99,29.16 L491.49,29.16 L491.49,28.79 L494.48,28.79 L494.48,28.41 L497.48,28.41 L497.48,28.04 L500.48,28.04 L500.48,27.67 L501.98,27.67 L502.98,27.67 L502.98,26.17 L503.98,26.17 L505.24,26.17 L505.24,25.93 L507.77,25.93 L507.77,25.68 L510.29,25.68 L510.29,25.43 L511.55,25.43 L512.27,25.43 L512.27,23.1 L512.98,23.1 L514.43,23.1 L514.43,22.98 L517.34,22.98 L517.34,22.86 L520.25,22.86 L520.25,22.75 L523.16,22.75 L523.16,22.63 L526.07,22.63 L526.07,22.51 L528.98,22.51 L528.98,22.4 L531.89,22.4 L531.89,22.28 L534.8,22.28 L534.8,22.16 L536.26,22.16" fill="none" stroke="#6bbc6b" stroke-width="1.0" stroke-opacity="1.0" stroke-linejoin="miter" shape-rendering="crispEdges"/><path d="M393.44,115.44 L393.56,115.44 L393.56,112.33 L393.8,112.33 L393.8,109.22 L394.04,109.22 L394.04,106.11 L394.15,106.11 L394.23,106.11 L394.23,103.31 L394.37,103.31 L394.37,100.51 L394.51,100.51 L394.51,97.71 L394.65,97.71 L394.65,94.92 L394.8,94.92 L394.8,92.12 L394.87,92.12 L395.19,92.12 L395.19,89.32 L395.83,89.32 L395.83,86.52 L396.15,86.52 L396.94,86.52 L396.94,83.44 L397.73,83.44 L398.3,83.44 L398.3,81.25 L399.44,81.25 L399.44,79.06 L400.01,79.06 L401.51,79.06 L401.51,77.47 L403.01,77.47 L404.51,77.47 L404.51,76.36 L407.51,76.36 L407.51,75.24 L409.01,75.24 L410.33,75.24 L410.33,73.7 L412.97,73.7 L412.97,72.16 L414.29,72.16 L415.79,72.16 L415.79,71.41 L417.29,71.41 L418.4,71.41 L418.4,70.67 L420.61,70.67 L420.61,69.92 L421.72,69.92 L421.9,69.92 L421.9,66.93 L422.25,66.93 L422.25,63.95 L422.43,63.95 L423.93,63.95 L423.93,62.46 L426.93,62.46 L426.93,60.97 L428.43,60.97 L430.22,60.97 L430.22,58.07 L432,58.07 L433.43,58.07 L433.43,54.81 L434.86,54.81 L436.93,54.81 L436.93,52.48 L439,52.48 L440.5,52.48 L440.5,49.21 L442,49.21 L443.5,49.21 L443.5,48.28 L445,48.28 L446.5,48.28 L446.5,47.72 L449.5,47.72 L449.5,47.16 L451,47.16 L452.5,47.16 L452.5,45.67 L455.5,45.67 L455.5,44.18 L457,44.18 L458.49,44.18 L458.49,40.45 L459.99,40.45 L460.74,40.45 L460.74,38.21 L462.24,38.21 L462.24,35.97 L462.99,35.97 L464.1,35.97 L464.1,34.48 L466.31,34.48 L466.31,32.98 L467.42,32.98 L468.96,32.98 L468.96,32.24 L472.03,32.24 L472.03,31.49 L473.56,31.49 L475.06,31.49 L475.06,30.33 L478.06,30.33 L478.06,29.16 L479.56,29.16 L480.67,29.16 L480.67,28.04 L482.88,28.04 L482.88,26.92 L483.99,26.92 L485.49,26.92 L485.49,26.17 L488.49,26.17 L488.49,25.43 L489.99,25.43 L491.49,25.43 L491.49,25.18 L494.48,25.18 L494.48,24.93 L497.48,24.93 L497.48,24.68 L498.98,24.68 L500.44,24.68 L500.44,24.31 L503.34,24.31 L503.34,23.94 L506.24,23.94 L506.24,23.56 L507.7,23.56 L509.12,23.56 L509.12,23.42 L511.98,23.42 L511.98,23.28 L514.84,23.28 L514.84,23.14 L517.69,23.14 L517.69,23 L520.55,23 L520.55,22.86 L523.41,22.86 L523.41,22.72 L526.26,22.72 L526.26,22.58 L529.12,22.58 L529.12,22.44 L531.97,22.44 L531.97,22.3 L534.83,22.3 L534.83,22.16 L536.26,22.16" fill="none" stroke="#e26868" stroke-width="1.0" stroke-opacity="1.0" stroke-linejoin="miter" shape-rendering="crispEdges"/><path d="M393.44,115.44 L393.56,115.44 L393.56,112.33 L393.8,112.33 L393.8,109.22 L394.04,109.22 L394.04,106.11 L394.15,106.11 L394.25,106.11 L394.25,103.31 L394.45,103.31 L394.45,100.51 L394.65,100.51 L394.65,97.71 L394.85,97.71 L394.85,94.92 L395.05,94.92 L395.05,92.12 L395.15,92.12 L396.08,92.12 L396.08,88.67 L397.01,88.67 L398.87,88.67 L398.87,85.68 L400.72,85.68 L401.65,85.68 L401.65,83.07 L403.51,83.07 L403.51,80.46 L404.44,80.46 L405.19,80.46 L405.19,78.22 L406.69,78.22 L406.69,75.98 L407.44,75.98 L408.58,75.98 L408.58,74.49 L410.86,74.49 L410.86,73 L412.01,73 L413.86,73 L413.86,70.67 L415.72,70.67 L417.04,70.67 L417.04,69.55 L419.68,69.55 L419.68,68.43 L421,68.43 L422,68.43 L422,65.94 L424,65.94 L424,63.45 L426,63.45 L426,60.97 L427,60.97 L428.79,60.97 L428.79,57.98 L430.57,57.98 L432,57.98 L432,57.05 L434.86,57.05 L434.86,56.11 L436.29,56.11 L437.48,56.11 L437.48,55.4 L439.86,55.4 L439.86,54.68 L442.24,54.68 L442.24,53.97 L443.43,53.97 L444.86,53.97 L444.86,52.48 L446.28,52.48 L447.93,52.48 L447.93,50.15 L449.57,50.15 L450.81,50.15 L450.81,48.9 L453.28,48.9 L453.28,47.66 L455.76,47.66 L455.76,46.41 L457,46.41 L458.49,46.41 L458.49,44.18 L461.49,44.18 L461.49,41.94 L462.99,41.94 L464.49,41.94 L464.49,40.45 L467.49,40.45 L467.49,38.95 L468.99,38.95 L470.49,38.95 L470.49,37.46 L473.49,37.46 L473.49,35.97 L474.99,35.97 L476.49,35.97 L476.49,34.48 L479.49,34.48 L479.49,32.98 L480.99,32.98 L482.25,32.98 L482.25,32.49 L484.77,32.49 L484.77,31.99 L487.3,31.99 L487.3,31.49 L488.56,31.49 L489.8,31.49 L489.8,30.96 L492.27,30.96 L492.27,30.43 L494.75,30.43 L494.75,29.91 L495.98,29.91 L497.63,29.91 L497.63,29.16 L500.91,29.16 L500.91,28.41 L502.55,28.41 L502.91,28.41 L502.91,26.17 L503.27,26.17 L504.71,26.17 L504.71,25.75 L507.61,25.75 L507.61,25.33 L510.5,25.33 L510.5,24.92 L513.39,24.92 L513.39,24.5 L514.84,24.5 L516.18,24.5 L516.18,24.2 L518.85,24.2 L518.85,23.91 L521.53,23.91 L521.53,23.62 L524.21,23.62 L524.21,23.33 L526.89,23.33 L526.89,23.04 L529.56,23.04 L529.56,22.75 L532.24,22.75 L532.24,22.46 L534.92,22.46 L534.92,22.16 L536.26,22.16" fill="none" stroke="#b495d1" stroke-width="1.0" stroke-opacity="1.0" stroke-linejoin="miter" shape-rendering="crispEdges"/><path d="M393.44,115.44 L393.55,115.44 L393.55,112.03 L393.76,112.03 L393.76,108.63 L393.87,108.63 L394.19,108.63 L394.19,106.3 L394.83,106.3 L394.83,103.96 L395.15,103.96 L395.8,103.96 L395.8,100.05 L396.44,100.05 L397.44,100.05 L397.44,98.09 L398.44,98.09 L399.8,98.09 L399.8,95.48 L401.15,95.48 L401.8,95.48 L401.8,92.86 L402.44,92.86 L403.44,92.86 L403.44,88.85 L404.44,88.85 L404.72,88.85 L404.72,84.94 L405.01,84.94 L407.01,84.94 L407.01,81.21 L409.01,81.21 L409.76,81.21 L409.76,78.59 L411.26,78.59 L411.26,75.98 L412.01,75.98 L413.33,75.98 L413.33,73.7 L415.97,73.7 L415.97,71.41 L417.29,71.41 L418.36,71.41 L418.36,69.17 L419.43,69.17 L420.58,69.17 L420.58,67.68 L421.72,67.68 L422.83,67.68 L422.83,65.82 L425.04,65.82 L425.04,63.95 L426.15,63.95 L427.29,63.95 L427.29,60.97 L428.43,60.97 L429.18,60.97 L429.18,57.98 L430.68,57.98 L430.68,55 L431.43,55 L432.22,55 L432.22,52.57 L433.79,52.57 L433.79,50.15 L434.57,50.15 L436.07,50.15 L436.07,48.28 L439.07,48.28 L439.07,46.41 L440.57,46.41 L442.07,46.41 L442.07,44.18 L443.57,44.18 L444.28,44.18 L444.28,42.68 L445,42.68 L446.14,42.68 L446.14,41.56 L448.43,41.56 L448.43,40.45 L449.57,40.45 L450.87,40.45 L450.87,38.74 L453.48,38.74 L453.48,37.04 L456.08,37.04 L456.08,35.34 L458.69,35.34 L458.69,33.64 L459.99,33.64 L461.14,33.64 L461.14,33.31 L463.42,33.31 L463.42,32.98 L464.56,32.98 L465.87,32.98 L465.87,32.4 L468.47,32.4 L468.47,31.82 L471.08,31.82 L471.08,31.23 L473.69,31.23 L473.69,30.65 L474.99,30.65 L476.49,30.65 L476.49,29.91 L479.49,29.91 L479.49,29.16 L482.49,29.16 L482.49,28.41 L485.49,28.41 L485.49,27.67 L488.49,27.67 L488.49,26.92 L489.99,26.92 L491.49,26.92 L491.49,26.43 L494.48,26.43 L494.48,25.94 L497.48,25.94 L497.48,25.45 L500.48,25.45 L500.48,24.96 L501.98,24.96 L503.27,24.96 L503.27,24.68 L505.84,24.68 L505.84,24.4 L508.41,24.4 L508.41,24.12 L510.98,24.12 L510.98,23.84 L513.55,23.84 L513.55,23.56 L514.84,23.56 L516.18,23.56 L516.18,23.39 L518.85,23.39 L518.85,23.21 L521.53,23.21 L521.53,23.04 L524.21,23.04 L524.21,22.86 L526.89,22.86 L526.89,22.69 L529.56,22.69 L529.56,22.51 L532.24,22.51 L532.24,22.34 L534.92,22.34 L534.92,22.16 L536.26,22.16" fill="none" stroke="#ae8981" stroke-width="1.0" stroke-opacity="1.0" stroke-linejoin="miter" shape-rendering="crispEdges"/><path d="M393.44,115.44 L394.65,115.44 L394.65,113.2 L395.87,113.2 L396.51,113.2 L396.51,110.59 L397.15,110.59 L398.51,110.59 L398.51,108.63 L399.87,108.63 L401.15,108.63 L401.15,107.32 L402.44,107.32 L403.72,107.32 L403.72,103.31 L405.01,103.31 L405.19,103.31 L405.19,101.03 L405.54,101.03 L405.54,98.74 L405.72,98.74 L406.37,98.74 L406.37,95.48 L407.01,95.48 L408.29,95.48 L408.29,92.86 L409.58,92.86 L410.86,92.86 L410.86,90.25 L412.15,90.25 L413.58,90.25 L413.58,88.01 L415.01,88.01 L416.86,88.01 L416.86,84.94 L418.72,84.94 L420.58,84.94 L420.58,81.95 L422.43,81.95 L423.22,81.95 L423.22,79.71 L424,79.71 L425.33,79.71 L425.33,78.59 L427.97,78.59 L427.97,77.47 L429.29,77.47 L430.61,77.47 L430.61,76.73 L433.25,76.73 L433.25,75.98 L434.57,75.98 L435.11,75.98 L435.11,73.7 L436.18,73.7 L436.18,71.41 L436.71,71.41 L438.04,71.41 L438.04,70.29 L440.68,70.29 L440.68,69.17 L442,69.17 L443.14,69.17 L443.14,66.93 L444.28,66.93 L446.14,66.93 L446.14,63.48 L448,63.48 L449.5,63.48 L449.5,60.5 L451,60.5 L452.14,60.5 L452.14,59.33 L454.42,59.33 L454.42,58.17 L455.57,58.17 L456.67,58.17 L456.67,57.05 L458.89,57.05 L458.89,55.93 L459.99,55.93 L461.49,55.93 L461.49,55.18 L464.49,55.18 L464.49,54.44 L465.99,54.44 L467.31,54.44 L467.31,54.06 L469.96,54.06 L469.96,53.69 L471.28,53.69 L473.13,53.69 L473.13,52.2 L474.99,52.2 L477.06,52.2 L477.06,49.68 L479.13,49.68 L480.74,49.68 L480.74,48.42 L483.95,48.42 L483.95,47.16 L485.56,47.16 L487.06,47.16 L487.06,45.3 L490.06,45.3 L490.06,43.43 L491.56,43.43 L492.66,43.43 L492.66,42.31 L494.88,42.31 L494.88,41.19 L495.98,41.19 L497.77,41.19 L497.77,37.46 L499.55,37.46 L500.66,37.46 L500.66,37.04 L502.88,37.04 L502.88,36.62 L503.98,36.62 L505.48,36.62 L505.48,36.29 L508.48,36.29 L508.48,35.97 L509.98,35.97 L511.48,35.97 L511.48,34.8 L514.48,34.8 L514.48,33.64 L515.98,33.64 L517.12,33.64 L517.12,32.56 L519.41,32.56 L519.41,31.49 L520.55,31.49 L521.66,31.49 L521.66,29.95 L523.87,29.95 L523.87,28.41 L524.98,28.41 L526.12,28.41 L526.12,25.43 L527.26,25.43 L529.12,25.43 L529.12,23.1 L530.97,23.1 L532.3,23.1 L532.3,22.63 L534.94,22.63 L534.94,22.16 L536.26,22.16" fill="none" stroke="#eba0d4" stroke-width="1.0" stroke-opacity="1.0" stroke-linejoin="miter" shape-rendering="crispEdges"/><path d="M393.44,115.44 L394.65,115.44 L394.65,114.5 L395.87,114.5 L397.15,114.5 L397.15,111.24 L398.44,111.24 L399.8,111.24 L399.8,108.63 L401.15,108.63 L402.08,108.63 L402.08,106.02 L403.01,106.02 L404.37,106.02 L404.37,104.71 L405.72,104.71 L407.65,104.71 L407.65,102.01 L409.58,102.01 L410.86,102.01 L410.86,98.74 L412.15,98.74 L413.39,98.74 L413.39,98.52 L415.86,98.52 L415.86,98.31 L418.34,98.31 L418.34,98.09 L419.58,98.09 L421.5,98.09 L421.5,96.78 L423.43,96.78 L425.36,96.78 L425.36,94.17 L427.29,94.17 L428.57,94.17 L428.57,90.91 L429.86,90.91 L431.22,90.91 L431.22,87.64 L432.57,87.64 L433.57,87.64 L433.57,84.94 L434.57,84.94 L435.68,84.94 L435.68,82.7 L437.89,82.7 L437.89,80.46 L439,80.46 L440.14,80.46 L440.14,78.97 L442.43,78.97 L442.43,77.47 L443.57,77.47 L444.57,77.47 L444.57,75.8 L445.57,75.8 L447.57,75.8 L447.57,72.44 L449.57,72.44 L451.07,72.44 L451.07,70.57 L454.07,70.57 L454.07,68.71 L455.57,68.71 L456.67,68.71 L456.67,67.21 L458.89,67.21 L458.89,65.72 L459.99,65.72 L461.26,65.72 L461.26,64.73 L463.78,64.73 L463.78,63.73 L466.3,63.73 L466.3,62.74 L467.56,62.74 L468.67,62.74 L468.67,60.87 L470.88,60.87 L470.88,59.01 L471.99,59.01 L473.13,59.01 L473.13,57.09 L475.42,57.09 L475.42,55.18 L476.56,55.18 L477.67,55.18 L477.67,54.06 L479.88,54.06 L479.88,52.94 L480.99,52.94 L482.13,52.94 L482.13,51.78 L484.42,51.78 L484.42,50.61 L485.56,50.61 L487.06,50.61 L487.06,49.4 L488.56,49.4 L489.66,49.4 L489.66,47.53 L491.88,47.53 L491.88,45.67 L492.99,45.67 L494.13,45.67 L494.13,44.18 L496.41,44.18 L496.41,42.68 L497.56,42.68 L498.66,42.68 L498.66,41.14 L500.88,41.14 L500.88,39.61 L501.98,39.61 L503.63,39.61 L503.63,38.11 L506.91,38.11 L506.91,36.62 L508.55,36.62 L510.05,36.62 L510.05,36.29 L513.05,36.29 L513.05,35.97 L514.55,35.97 L516.05,35.97 L516.05,34.48 L519.05,34.48 L519.05,32.98 L520.55,32.98 L521.66,32.98 L521.66,31.44 L523.87,31.44 L523.87,29.91 L524.98,29.91 L526.83,29.91 L526.83,26.92 L528.69,26.92 L529.83,26.92 L529.83,23.94 L530.97,23.94 L532.3,23.94 L532.3,23.05 L534.94,23.05 L534.94,22.16 L536.26,22.16" fill="none" stroke="#a5a5a5" stroke-width="1.0" stroke-opacity="1.0" stroke-linejoin="miter" shape-rendering="crispEdges"/><rect x="386.3" y="17.5" width="157.1" height="102.6" fill="none" stroke="#bcbcbc" stroke-width="1.0"/><line x1="384.7" y1="115.44" x2="386.3" y2="115.44" stroke="#a8a8a8" stroke-width="0.5"/><line x1="393.44" y1="120.1" x2="393.44" y2="121.7" stroke="#a8a8a8" stroke-width="0.5"/><text x="384.9" y="117.24" font-size="4.5" fill="#333" stroke="#333" stroke-width="0.06" text-anchor="end" textLength="6.28" lengthAdjust="spacingAndGlyphs">0.0</text><text x="393.44" y="125.2" font-size="4.5" fill="#333" stroke="#333" stroke-width="0.06" text-anchor="middle" textLength="6.28" lengthAdjust="spacingAndGlyphs">0.0</text><line x1="384.7" y1="96.78" x2="386.3" y2="96.78" stroke="#a8a8a8" stroke-width="0.5"/><line x1="422" y1="120.1" x2="422" y2="121.7" stroke="#a8a8a8" stroke-width="0.5"/><text x="384.9" y="98.58" font-size="4.5" fill="#333" stroke="#333" stroke-width="0.06" text-anchor="end" textLength="6.28" lengthAdjust="spacingAndGlyphs">0.2</text><text x="422" y="125.2" font-size="4.5" fill="#333" stroke="#333" stroke-width="0.06" text-anchor="middle" textLength="6.28" lengthAdjust="spacingAndGlyphs">0.2</text><line x1="384.7" y1="78.13" x2="386.3" y2="78.13" stroke="#a8a8a8" stroke-width="0.5"/><line x1="450.57" y1="120.1" x2="450.57" y2="121.7" stroke="#a8a8a8" stroke-width="0.5"/><text x="384.9" y="79.93" font-size="4.5" fill="#333" stroke="#333" stroke-width="0.06" text-anchor="end" textLength="6.28" lengthAdjust="spacingAndGlyphs">0.4</text><text x="450.57" y="125.2" font-size="4.5" fill="#333" stroke="#333" stroke-width="0.06" text-anchor="middle" textLength="6.28" lengthAdjust="spacingAndGlyphs">0.4</text><line x1="384.7" y1="59.47" x2="386.3" y2="59.47" stroke="#a8a8a8" stroke-width="0.5"/><line x1="479.13" y1="120.1" x2="479.13" y2="121.7" stroke="#a8a8a8" stroke-width="0.5"/><text x="384.9" y="61.27" font-size="4.5" fill="#333" stroke="#333" stroke-width="0.06" text-anchor="end" textLength="6.28" lengthAdjust="spacingAndGlyphs">0.6</text><text x="479.13" y="125.2" font-size="4.5" fill="#333" stroke="#333" stroke-width="0.06" text-anchor="middle" textLength="6.28" lengthAdjust="spacingAndGlyphs">0.6</text><line x1="384.7" y1="40.82" x2="386.3" y2="40.82" stroke="#a8a8a8" stroke-width="0.5"/><line x1="507.7" y1="120.1" x2="507.7" y2="121.7" stroke="#a8a8a8" stroke-width="0.5"/><text x="384.9" y="42.62" font-size="4.5" fill="#333" stroke="#333" stroke-width="0.06" text-anchor="end" textLength="6.28" lengthAdjust="spacingAndGlyphs">0.8</text><text x="507.7" y="125.2" font-size="4.5" fill="#333" stroke="#333" stroke-width="0.06" text-anchor="middle" textLength="6.28" lengthAdjust="spacingAndGlyphs">0.8</text><line x1="384.7" y1="22.16" x2="386.3" y2="22.16" stroke="#a8a8a8" stroke-width="0.5"/><line x1="536.26" y1="120.1" x2="536.26" y2="121.7" stroke="#a8a8a8" stroke-width="0.5"/><text x="384.9" y="23.96" font-size="4.5" fill="#333" stroke="#333" stroke-width="0.06" text-anchor="end" textLength="6.28" lengthAdjust="spacingAndGlyphs">1.0</text><text x="536.26" y="125.2" font-size="4.5" fill="#333" stroke="#333" stroke-width="0.06" text-anchor="middle" textLength="6.28" lengthAdjust="spacingAndGlyphs">1.0</text><text x="464.85" y="16.9" font-size="5.7" fill="#2a2a2a" stroke="#2a2a2a" stroke-width="0.04" text-anchor="middle" textLength="110.5" lengthAdjust="spacingAndGlyphs">Prediction for eGFR&lt;GFR60ml/min/1.73m2</text><rect x="461.5" y="67.5" width="80.4" height="51.0" rx="1" fill="#fff" fill-opacity="0.85"/><line x1="463.3" y1="72.94" x2="472" y2="72.94" stroke="#1f77b4" stroke-width="0.8" stroke-opacity="0.7"/><text x="474.8" y="74.54" font-size="4.5" fill="#262626" stroke="#262626" stroke-width="0.03" textLength="63.54" lengthAdjust="spacingAndGlyphs">Surface volume ratio&#160;&#160;AUC: 0.86</text><line x1="463.3" y1="79.17" x2="472" y2="79.17" stroke="#ff7f0e" stroke-width="0.8" stroke-opacity="0.7"/><text x="474.8" y="80.77" font-size="4.5" fill="#262626" stroke="#262626" stroke-width="0.03" textLength="48.53" lengthAdjust="spacingAndGlyphs">Mesh volume&#160;&#160;AUC: 0.81</text><line x1="463.3" y1="85.4" x2="472" y2="85.4" stroke="#2ca02c" stroke-width="0.8" stroke-opacity="0.7"/><text x="474.8" y="87" font-size="4.5" fill="#262626" stroke="#262626" stroke-width="0.03" textLength="65.7" lengthAdjust="spacingAndGlyphs">Maximum3DDiameter&#160;&#160;AUC: 0.77</text><line x1="463.3" y1="91.63" x2="472" y2="91.63" stroke="#d62728" stroke-width="0.8" stroke-opacity="0.7"/><text x="474.8" y="93.23" font-size="4.5" fill="#262626" stroke="#262626" stroke-width="0.03" textLength="55.11" lengthAdjust="spacingAndGlyphs">MinorAxisLength&#160;&#160;AUC: 0.76</text><line x1="463.3" y1="97.86" x2="472" y2="97.86" stroke="#9467bd" stroke-width="0.8" stroke-opacity="0.7"/><text x="474.8" y="99.46" font-size="4.5" fill="#262626" stroke="#262626" stroke-width="0.03" textLength="55.03" lengthAdjust="spacingAndGlyphs">MajorAxisLength&#160;&#160;AUC: 0.74</text><line x1="463.3" y1="104.09" x2="472" y2="104.09" stroke="#8c564b" stroke-width="0.8" stroke-opacity="0.7"/><text x="474.8" y="105.69" font-size="4.5" fill="#262626" stroke="#262626" stroke-width="0.03" textLength="42.07" lengthAdjust="spacingAndGlyphs">Sphericity&#160;&#160;AUC: 0.75</text><line x1="463.3" y1="110.32" x2="472" y2="110.32" stroke="#e377c2" stroke-width="0.8" stroke-opacity="0.7"/><text x="474.8" y="111.92" font-size="4.5" fill="#262626" stroke="#262626" stroke-width="0.03" textLength="38.63" lengthAdjust="spacingAndGlyphs">Flatness&#160;&#160;AUC: 0.59</text><line x1="463.3" y1="116.55" x2="472" y2="116.55" stroke="#7f7f7f" stroke-width="0.8" stroke-opacity="0.7"/><text x="474.8" y="118.15" font-size="4.5" fill="#262626" stroke="#262626" stroke-width="0.03" textLength="43.25" lengthAdjust="spacingAndGlyphs">Elongation&#160;&#160;AUC: 0.53</text><text x="369.8" y="15.5" font-size="13.2" font-weight="bold" fill="#000">C</text></g>
<g><line x1="32.54" y1="149.55" x2="32.54" y2="251.5" stroke="#ececec" stroke-width="0.6"/><line x1="25.4" y1="246.87" x2="182.5" y2="246.87" stroke="#ececec" stroke-width="0.6"/><line x1="61.1" y1="149.55" x2="61.1" y2="251.5" stroke="#ececec" stroke-width="0.6"/><line x1="25.4" y1="228.33" x2="182.5" y2="228.33" stroke="#ececec" stroke-width="0.6"/><line x1="89.67" y1="149.55" x2="89.67" y2="251.5" stroke="#ececec" stroke-width="0.6"/><line x1="25.4" y1="209.79" x2="182.5" y2="209.79" stroke="#ececec" stroke-width="0.6"/><line x1="118.23" y1="149.55" x2="118.23" y2="251.5" stroke="#ececec" stroke-width="0.6"/><line x1="25.4" y1="191.26" x2="182.5" y2="191.26" stroke="#ececec" stroke-width="0.6"/><line x1="146.8" y1="149.55" x2="146.8" y2="251.5" stroke="#ececec" stroke-width="0.6"/><line x1="25.4" y1="172.72" x2="182.5" y2="172.72" stroke="#ececec" stroke-width="0.6"/><line x1="175.36" y1="149.55" x2="175.36" y2="251.5" stroke="#ececec" stroke-width="0.6"/><line x1="25.4" y1="154.18" x2="182.5" y2="154.18" stroke="#ececec" stroke-width="0.6"/><line x1="32.54" y1="246.87" x2="175.36" y2="154.18" stroke="#dcdcdc" stroke-width="0.6"/><path d="M32.54,246.87 L32.54,219.06 L32.97,219.06 L32.97,208.12 L35.97,208.12 L35.97,203.12 L42.54,203.12 L42.54,197.37 L44.54,197.37 L44.54,192.18 L51.96,192.18 L51.96,186.44 L57.25,186.44 L57.25,180.97 L75.39,180.97 L75.39,176.15 L97.67,176.15 L97.67,170.22 L104.66,170.22 L104.66,164.66 L115.38,164.66 L115.38,159.1 L122.94,159.1 L122.94,154.18 L175.36,154.18" fill="none" stroke="#62a0ca" stroke-width="1.0" stroke-opacity="1.0" stroke-linejoin="miter" shape-rendering="crispEdges"/><path d="M32.54,246.87 L33.4,246.87 L33.4,242.23 L34.25,242.23 L34.25,214.33 L36.25,214.33 L36.25,208.12 L43.25,208.12 L43.25,197.47 L54.96,197.47 L55.32,197.47 L55.32,192.18 L55.68,192.18 L63.25,192.18 L63.25,186.44 L68.82,186.44 L68.82,180.97 L72.24,180.97 L72.24,175.96 L106.52,175.96 L106.52,165.31 L114.09,165.31 L114.09,159.1 L119.23,159.1 L119.23,154.18 L175.36,154.18" fill="none" stroke="#ffa556" stroke-width="1.0" stroke-opacity="1.0" stroke-linejoin="miter" shape-rendering="crispEdges"/><path d="M32.54,246.87 L32.54,241.31 L39.25,241.31 L39.25,224.62 L39.82,224.62 L39.82,214.33 L53.82,214.33 L53.82,208.68 L57.82,208.68 L57.82,203.12 L60.68,203.12 L60.68,197.47 L68.25,197.47 L68.25,191.72 L79.67,191.72 L79.67,186.44 L83.96,186.44 L83.96,180.97 L89.67,180.97 L89.67,176.15 L101.38,176.15 L101.38,170.22 L103.38,170.22 L103.38,164.66 L112.95,164.66 L112.95,164.66 L125.23,164.66 L125.23,154.18 L175.36,154.18" fill="none" stroke="#6bbc6b" stroke-width="1.0" stroke-opacity="1.0" stroke-linejoin="miter" shape-rendering="crispEdges"/><path d="M32.54,246.87 L32.54,241.31 L33.97,241.31 L33.97,218.78 L37.54,218.78 L37.54,214.33 L43.25,214.33 L43.25,208.68 L50.54,208.68 L50.54,203.12 L53.82,203.12 L53.82,197.47 L59.53,197.47 L59.53,191.72 L64.67,191.72 L64.67,186.44 L70.24,186.44 L70.24,180.97 L81.24,180.97 L81.24,176.06 L93.95,176.06 L93.95,169.85 L97.24,169.85 L97.24,164.29 L104.66,164.29 L104.66,159.37 L130.23,159.37 L130.23,154.18 L175.36,154.18" fill="none" stroke="#e26868" stroke-width="1.0" stroke-opacity="1.0" stroke-linejoin="miter" shape-rendering="crispEdges"/><path d="M32.54,246.87 L32.54,241.31 L36.4,241.31 L36.4,219.06 L46.11,219.06 L46.11,214.33 L50.54,214.33 L50.54,208.68 L52.68,208.68 L52.68,203.12 L64.53,203.12 L64.53,197.19 L79.24,197.19 L79.24,191.26 L83.53,191.26 L83.53,181.25 L92.52,181.25 L92.52,176.15 L114.09,176.15 L114.09,170.22 L119.23,170.22 L119.23,164.66 L125.37,164.66 L125.37,159.37 L134.23,159.37 L134.23,154.18 L175.36,154.18" fill="none" stroke="#b495d1" stroke-width="1.0" stroke-opacity="1.0" stroke-linejoin="miter" shape-rendering="crispEdges"/><path d="M32.54,246.87 L32.54,241.31 L35.54,241.31 L35.54,230.18 L39.68,230.18 L39.68,218.78 L45.97,218.78 L45.97,214.33 L57.82,214.33 L57.82,208.12 L74.1,208.12 L74.1,203.31 L75.24,203.31 L75.24,197.74 L86.81,197.74 L86.81,192.46 L92.52,192.46 L92.52,186.44 L103.66,186.44 L103.66,181.25 L114.23,181.25 L114.23,176.43 L127.94,176.43 L127.94,170.87 L135.8,170.87 L135.8,165.03 L139.51,165.03 L139.51,159.1 L165.36,159.1 L165.36,154.18 L175.36,154.18" fill="none" stroke="#ae8981" stroke-width="1.0" stroke-opacity="1.0" stroke-linejoin="miter" shape-rendering="crispEdges"/><path d="M32.54,246.87 L32.54,241.49 L39.25,241.49 L39.25,236.21 L48.25,236.21 L48.25,235.56 L55.68,235.56 L55.68,230.18 L63.96,230.18 L63.96,229.63 L70.67,229.63 L70.67,225.09 L72.96,225.09 L72.96,207.75 L81.24,207.75 L81.24,202.66 L87.81,202.66 L87.81,197.19 L97.38,197.19 L97.38,191.72 L107.52,191.72 L107.52,181.25 L114.95,181.25 L114.95,175.5 L124.66,175.5 L124.66,159.37 L127.2,159.37 L127.2,159.34 L132.29,159.34 L132.29,159.3 L137.38,159.3 L137.38,159.27 L142.47,159.27 L142.47,159.24 L147.55,159.24 L147.55,159.2 L152.64,159.2 L152.64,159.17 L157.73,159.17 L157.73,159.13 L162.82,159.13 L162.82,159.1 L165.36,159.1 L170.22,159.1 L170.22,154.18 L175.36,154.18" fill="none" stroke="#eba0d4" stroke-width="1.0" stroke-opacity="1.0" stroke-linejoin="miter" shape-rendering="crispEdges"/><path d="M32.54,246.87 L35.54,246.87 L35.54,241.49 L48.25,241.49 L48.25,236.21 L50.54,236.21 L50.54,230.18 L63.96,230.18 L63.96,225.09 L75.96,225.09 L75.96,214.43 L90.24,214.43 L90.24,208.12 L95.95,208.12 L95.95,202.66 L99.24,202.66 L99.24,197.65 L114.23,197.65 L114.23,191.72 L120.23,191.72 L120.23,187.27 L122.23,187.27 L122.23,181.25 L123.52,181.25 L123.52,176.43 L135.37,176.43 L135.37,170.87 L136.8,170.87 L136.8,166.23 L139.51,166.23 L139.51,159.1 L165.36,159.1 L165.36,154.18 L175.36,154.18" fill="none" stroke="#a5a5a5" stroke-width="1.0" stroke-opacity="1.0" stroke-linejoin="miter" shape-rendering="crispEdges"/><rect x="25.4" y="149.55" width="157.1" height="101.95" fill="none" stroke="#bcbcbc" stroke-width="1.0"/><line x1="23.8" y1="246.87" x2="25.4" y2="246.87" stroke="#a8a8a8" stroke-width="0.5"/><line x1="32.54" y1="251.5" x2="32.54" y2="253.1" stroke="#a8a8a8" stroke-width="0.5"/><text x="24" y="248.67" font-size="4.5" fill="#333" stroke="#333" stroke-width="0.06" text-anchor="end" textLength="6.28" lengthAdjust="spacingAndGlyphs">0.0</text><text x="32.54" y="256.6" font-size="4.5" fill="#333" stroke="#333" stroke-width="0.06" text-anchor="middle" textLength="6.28" lengthAdjust="spacingAndGlyphs">0.0</text><line x1="23.8" y1="228.33" x2="25.4" y2="228.33" stroke="#a8a8a8" stroke-width="0.5"/><line x1="61.1" y1="251.5" x2="61.1" y2="253.1" stroke="#a8a8a8" stroke-width="0.5"/><text x="24" y="230.13" font-size="4.5" fill="#333" stroke="#333" stroke-width="0.06" text-anchor="end" textLength="6.28" lengthAdjust="spacingAndGlyphs">0.2</text><text x="61.1" y="256.6" font-size="4.5" fill="#333" stroke="#333" stroke-width="0.06" text-anchor="middle" textLength="6.28" lengthAdjust="spacingAndGlyphs">0.2</text><line x1="23.8" y1="209.79" x2="25.4" y2="209.79" stroke="#a8a8a8" stroke-width="0.5"/><line x1="89.67" y1="251.5" x2="89.67" y2="253.1" stroke="#a8a8a8" stroke-width="0.5"/><text x="24" y="211.59" font-size="4.5" fill="#333" stroke="#333" stroke-width="0.06" text-anchor="end" textLength="6.28" lengthAdjust="spacingAndGlyphs">0.4</text><text x="89.67" y="256.6" font-size="4.5" fill="#333" stroke="#333" stroke-width="0.06" text-anchor="middle" textLength="6.28" lengthAdjust="spacingAndGlyphs">0.4</text><line x1="23.8" y1="191.26" x2="25.4" y2="191.26" stroke="#a8a8a8" stroke-width="0.5"/><line x1="118.23" y1="251.5" x2="118.23" y2="253.1" stroke="#a8a8a8" stroke-width="0.5"/><text x="24" y="193.06" font-size="4.5" fill="#333" stroke="#333" stroke-width="0.06" text-anchor="end" textLength="6.28" lengthAdjust="spacingAndGlyphs">0.6</text><text x="118.23" y="256.6" font-size="4.5" fill="#333" stroke="#333" stroke-width="0.06" text-anchor="middle" textLength="6.28" lengthAdjust="spacingAndGlyphs">0.6</text><line x1="23.8" y1="172.72" x2="25.4" y2="172.72" stroke="#a8a8a8" stroke-width="0.5"/><line x1="146.8" y1="251.5" x2="146.8" y2="253.1" stroke="#a8a8a8" stroke-width="0.5"/><text x="24" y="174.52" font-size="4.5" fill="#333" stroke="#333" stroke-width="0.06" text-anchor="end" textLength="6.28" lengthAdjust="spacingAndGlyphs">0.8</text><text x="146.8" y="256.6" font-size="4.5" fill="#333" stroke="#333" stroke-width="0.06" text-anchor="middle" textLength="6.28" lengthAdjust="spacingAndGlyphs">0.8</text><line x1="23.8" y1="154.18" x2="25.4" y2="154.18" stroke="#a8a8a8" stroke-width="0.5"/><line x1="175.36" y1="251.5" x2="175.36" y2="253.1" stroke="#a8a8a8" stroke-width="0.5"/><text x="24" y="155.98" font-size="4.5" fill="#333" stroke="#333" stroke-width="0.06" text-anchor="end" textLength="6.28" lengthAdjust="spacingAndGlyphs">1.0</text><text x="175.36" y="256.6" font-size="4.5" fill="#333" stroke="#333" stroke-width="0.06" text-anchor="middle" textLength="6.28" lengthAdjust="spacingAndGlyphs">1.0</text><text x="103.95" y="148.95" font-size="5.7" fill="#2a2a2a" stroke="#2a2a2a" stroke-width="0.04" text-anchor="middle" textLength="110.5" lengthAdjust="spacingAndGlyphs">Prediction for eGFR&lt;GFR30ml/min/1.73m2</text><rect x="100.6" y="198.9" width="80.4" height="51.0" rx="1" fill="#fff" fill-opacity="0.85"/><line x1="102.4" y1="204.34" x2="111.1" y2="204.34" stroke="#1f77b4" stroke-width="0.8" stroke-opacity="0.7"/><text x="113.9" y="205.94" font-size="4.5" fill="#262626" stroke="#262626" stroke-width="0.03" textLength="63.54" lengthAdjust="spacingAndGlyphs">Surface volume ratio&#160;&#160;AUC: 0.82</text><line x1="102.4" y1="210.57" x2="111.1" y2="210.57" stroke="#ff7f0e" stroke-width="0.8" stroke-opacity="0.7"/><text x="113.9" y="212.17" font-size="4.5" fill="#262626" stroke="#262626" stroke-width="0.03" textLength="46.02" lengthAdjust="spacingAndGlyphs">Mesh volume&#160;&#160;AUC: 0.8</text><line x1="102.4" y1="216.8" x2="111.1" y2="216.8" stroke="#2ca02c" stroke-width="0.8" stroke-opacity="0.7"/><text x="113.9" y="218.4" font-size="4.5" fill="#262626" stroke="#262626" stroke-width="0.03" textLength="65.7" lengthAdjust="spacingAndGlyphs">Maximum3DDiameter&#160;&#160;AUC: 0.75</text><line x1="102.4" y1="223.03" x2="111.1" y2="223.03" stroke="#d62728" stroke-width="0.8" stroke-opacity="0.7"/><text x="113.9" y="224.63" font-size="4.5" fill="#262626" stroke="#262626" stroke-width="0.03" textLength="55.11" lengthAdjust="spacingAndGlyphs">MinorAxisLength&#160;&#160;AUC: 0.79</text><line x1="102.4" y1="229.26" x2="111.1" y2="229.26" stroke="#9467bd" stroke-width="0.8" stroke-opacity="0.7"/><text x="113.9" y="230.86" font-size="4.5" fill="#262626" stroke="#262626" stroke-width="0.03" textLength="55.03" lengthAdjust="spacingAndGlyphs">MajorAxisLength&#160;&#160;AUC: 0.73</text><line x1="102.4" y1="235.49" x2="111.1" y2="235.49" stroke="#8c564b" stroke-width="0.8" stroke-opacity="0.7"/><text x="113.9" y="237.09" font-size="4.5" fill="#262626" stroke="#262626" stroke-width="0.03" textLength="42.07" lengthAdjust="spacingAndGlyphs">Sphericity&#160;&#160;AUC: 0.66</text><line x1="102.4" y1="241.72" x2="111.1" y2="241.72" stroke="#e377c2" stroke-width="0.8" stroke-opacity="0.7"/><text x="113.9" y="243.32" font-size="4.5" fill="#262626" stroke="#262626" stroke-width="0.03" textLength="43.25" lengthAdjust="spacingAndGlyphs">Elongation&#160;&#160;AUC: 0.58</text><line x1="102.4" y1="247.95" x2="111.1" y2="247.95" stroke="#7f7f7f" stroke-width="0.8" stroke-opacity="0.7"/><text x="113.9" y="249.55" font-size="4.5" fill="#262626" stroke="#262626" stroke-width="0.03" textLength="38.63" lengthAdjust="spacingAndGlyphs">Flatness&#160;&#160;AUC: 0.54</text><text x="8.9" y="147" font-size="13.2" font-weight="bold" fill="#000">D</text></g>
<g><line x1="213.24" y1="149.55" x2="213.24" y2="251.5" stroke="#ececec" stroke-width="0.6"/><line x1="206.1" y1="246.87" x2="363.2" y2="246.87" stroke="#ececec" stroke-width="0.6"/><line x1="241.8" y1="149.55" x2="241.8" y2="251.5" stroke="#ececec" stroke-width="0.6"/><line x1="206.1" y1="228.33" x2="363.2" y2="228.33" stroke="#ececec" stroke-width="0.6"/><line x1="270.37" y1="149.55" x2="270.37" y2="251.5" stroke="#ececec" stroke-width="0.6"/><line x1="206.1" y1="209.79" x2="363.2" y2="209.79" stroke="#ececec" stroke-width="0.6"/><line x1="298.93" y1="149.55" x2="298.93" y2="251.5" stroke="#ececec" stroke-width="0.6"/><line x1="206.1" y1="191.26" x2="363.2" y2="191.26" stroke="#ececec" stroke-width="0.6"/><line x1="327.5" y1="149.55" x2="327.5" y2="251.5" stroke="#ececec" stroke-width="0.6"/><line x1="206.1" y1="172.72" x2="363.2" y2="172.72" stroke="#ececec" stroke-width="0.6"/><line x1="356.06" y1="149.55" x2="356.06" y2="251.5" stroke="#ececec" stroke-width="0.6"/><line x1="206.1" y1="154.18" x2="363.2" y2="154.18" stroke="#ececec" stroke-width="0.6"/><line x1="213.24" y1="246.87" x2="356.06" y2="154.18" stroke="#dcdcdc" stroke-width="0.6"/><path d="M213.24,246.87 L213.24,221.29 L215.53,221.29 L215.53,216.28 L218.1,216.28 L218.1,210.16 L220.67,210.16 L221.81,210.16 L221.81,205.62 L222.95,205.62 L224.84,205.62 L224.84,204.51 L228.63,204.51 L228.63,203.4 L230.52,203.4 L231.59,203.4 L231.59,199.69 L232.66,199.69 L237.95,199.69 L240.95,199.69 L240.95,198.21 L243.95,198.21 L248.52,198.21 L250.02,198.21 L250.02,195.24 L251.52,195.24 L257.51,195.24 L257.51,191.26 L259.73,191.26 L259.73,190.7 L261.94,190.7 L263.23,190.7 L263.23,187.46 L264.51,187.46 L267.08,187.46 L267.08,183.75 L269.65,183.75 L272.44,183.75 L272.44,181.99 L275.22,181.99 L276.51,181.99 L276.51,180.14 L277.79,180.14 L277.79,174.02 L288.36,174.02 L288.36,171.79 L290.08,171.79 L290.08,171.33 L291.79,171.33 L294.65,171.33 L294.65,169.94 L297.5,169.94 L299.43,169.94 L299.43,169.57 L301.36,169.57 L301.36,155.95 L311.21,155.95 L311.64,155.95 L311.64,154.65 L312.07,154.65 L321.78,154.65 L323.93,154.65 L323.93,154.59 L328.21,154.59 L328.21,154.53 L332.49,154.53 L332.49,154.47 L336.78,154.47 L336.78,154.42 L341.06,154.42 L341.06,154.36 L345.35,154.36 L345.35,154.3 L349.63,154.3 L349.63,154.24 L353.92,154.24 L353.92,154.18 L356.06,154.18" fill="none" stroke="#62a0ca" stroke-width="1.0" stroke-opacity="1.0" stroke-linejoin="miter" shape-rendering="crispEdges"/><path d="M213.24,246.87 L213.42,246.87 L213.42,242.23 L213.78,242.23 L213.78,237.6 L213.96,237.6 L213.96,224.62 L215.53,224.62 L215.53,212.39 L219.24,212.39 L221.1,212.39 L221.1,207.85 L222.95,207.85 L225.24,207.85 L225.24,205.62 L227.52,205.62 L229.38,205.62 L229.38,203.4 L231.24,203.4 L232.38,203.4 L232.38,199.69 L233.52,199.69 L235.88,199.69 L235.88,196.45 L238.23,196.45 L241.23,196.45 L241.23,194.87 L244.23,194.87 L247.09,194.87 L247.09,192.93 L249.95,192.93 L250.73,192.93 L250.73,190.7 L251.52,190.7 L256.09,190.7 L259.01,190.7 L259.01,187.73 L261.94,187.73 L264.26,187.73 L264.26,187.46 L268.9,187.46 L268.9,187.18 L273.55,187.18 L273.55,186.9 L278.19,186.9 L278.19,186.62 L280.51,186.62 L280.51,175.5 L290.22,175.5 L290.22,171.79 L292.15,171.79 L292.15,169.38 L294.08,169.38 L296.68,169.38 L296.68,168.64 L301.9,168.64 L301.9,167.9 L304.5,167.9 L306.39,167.9 L306.39,164.89 L310.18,164.89 L310.18,161.88 L312.07,161.88 L312.07,159.1 L314.28,159.1 L314.28,157.61 L316.5,157.61 L319.14,157.61 L319.14,154.65 L321.78,154.65 L340.35,154.65 L342.31,154.65 L342.31,154.53 L346.24,154.53 L346.24,154.42 L350.17,154.42 L350.17,154.3 L354.1,154.3 L354.1,154.18 L356.06,154.18" fill="none" stroke="#ffa556" stroke-width="1.0" stroke-opacity="1.0" stroke-linejoin="miter" shape-rendering="crispEdges"/><path d="M213.24,246.87 L213.42,246.87 L213.42,242.23 L213.78,242.23 L213.78,237.6 L213.96,237.6 L213.96,223.7 L215.84,223.7 L215.84,222.15 L219.6,222.15 L219.6,220.61 L223.36,220.61 L223.36,219.06 L225.24,219.06 L225.24,215.35 L226.92,215.35 L226.92,211.23 L230.27,211.23 L230.27,207.11 L231.95,207.11 L233.81,207.11 L233.81,204.14 L235.66,204.14 L237.59,204.14 L237.59,202.66 L239.52,202.66 L241.16,202.66 L241.16,200.66 L244.45,200.66 L244.45,198.67 L246.09,198.67 L247.8,198.67 L247.8,197.28 L251.23,197.28 L251.23,195.89 L252.94,195.89 L253.44,195.89 L253.44,193.39 L253.94,193.39 L256.59,193.39 L256.59,191.26 L259.23,191.26 L261.37,191.26 L261.37,186.25 L263.51,186.25 L265.23,186.25 L265.23,185.05 L268.65,185.05 L268.65,183.84 L270.37,183.84 L272.15,183.84 L272.15,181.99 L275.72,181.99 L275.72,180.14 L277.51,180.14 L279.27,180.14 L279.27,179.02 L282.79,179.02 L282.79,177.91 L286.32,177.91 L286.32,176.8 L288.08,176.8 L290.33,176.8 L290.33,176.43 L294.83,176.43 L294.83,176.06 L297.08,176.06 L299.5,176.06 L299.5,173.09 L304.36,173.09 L304.36,170.13 L306.79,170.13 L309.43,170.13 L309.43,168.83 L312.07,168.83 L312.79,168.83 L312.79,167.9 L313.5,167.9 L313.86,167.9 L313.86,164.94 L314.21,164.94 L316.68,164.94 L316.68,164.66 L321.6,164.66 L321.6,164.38 L324.07,164.38 L324.42,164.38 L324.42,162.9 L324.78,162.9 L335.21,162.9 L335.64,162.9 L335.64,157.61 L336.06,157.61 L338.21,157.61 L338.21,157.09 L342.49,157.09 L342.49,156.56 L346.78,156.56 L346.78,156.04 L348.92,156.04 L350.7,156.04 L350.7,155.11 L354.27,155.11 L354.27,154.18 L356.06,154.18" fill="none" stroke="#6bbc6b" stroke-width="1.0" stroke-opacity="1.0" stroke-linejoin="miter" shape-rendering="crispEdges"/><path d="M213.24,246.87 L213.42,246.87 L213.42,242.23 L213.78,242.23 L213.78,237.6 L213.96,237.6 L213.96,220.92 L216.38,220.92 L216.38,219.99 L221.24,219.99 L221.24,219.06 L223.67,219.06 L223.67,207.11 L225.95,207.11 L225.95,205.62 L228.24,205.62 L230.09,205.62 L230.09,203.4 L233.81,203.4 L233.81,201.17 L235.66,201.17 L237.38,201.17 L237.38,200.8 L240.8,200.8 L240.8,200.43 L242.52,200.43 L243.59,200.43 L243.59,197.47 L244.66,197.47 L245.59,197.47 L245.59,196.45 L246.52,196.45 L248.02,196.45 L248.02,194.87 L249.52,194.87 L250.66,194.87 L250.66,192.18 L251.8,192.18 L253.98,192.18 L253.98,191.72 L258.34,191.72 L258.34,191.26 L260.51,191.26 L260.87,191.26 L260.87,189.22 L261.23,189.22 L264.37,189.22 L264.37,185.7 L267.51,185.7 L269.3,185.7 L269.3,182.92 L272.87,182.92 L272.87,180.14 L274.65,180.14 L276.8,180.14 L276.8,178.47 L281.08,178.47 L281.08,176.8 L283.22,176.8 L283.22,169.57 L284.29,169.57 L284.29,169.01 L285.36,169.01 L287.15,169.01 L287.15,167.16 L288.93,167.16 L291.08,167.16 L291.08,165.77 L293.22,165.77 L293.22,164.56 L294.93,164.56 L294.93,164.33 L298.36,164.33 L298.36,164.1 L300.07,164.1 L303.07,164.1 L303.07,161.88 L306.07,161.88 L306.43,161.88 L306.43,160.39 L306.79,160.39 L308.39,160.39 L308.39,159.61 L311.61,159.61 L311.61,158.82 L313.21,158.82 L315.12,158.82 L315.12,158.15 L318.94,158.15 L318.94,157.47 L322.76,157.47 L322.76,156.8 L326.58,156.8 L326.58,156.13 L328.5,156.13 L348.06,156.13 L348.49,156.13 L348.49,154.65 L348.92,154.65 L350.7,154.65 L350.7,154.42 L354.27,154.42 L354.27,154.18 L356.06,154.18" fill="none" stroke="#e26868" stroke-width="1.0" stroke-opacity="1.0" stroke-linejoin="miter" shape-rendering="crispEdges"/><path d="M213.24,246.87 L213.24,228.05 L219.24,228.05 L219.7,228.05 L219.7,223.95 L220.63,223.95 L220.63,219.85 L221.56,219.85 L221.56,215.75 L222.49,215.75 L222.49,211.65 L222.95,211.65 L224.84,211.65 L224.84,208.63 L228.63,208.63 L228.63,205.62 L230.52,205.62 L232.38,205.62 L232.38,202.66 L234.24,202.66 L235.73,202.66 L235.73,201.17 L237.23,201.17 L239.09,201.17 L239.09,200.43 L240.95,200.43 L243.95,200.43 L243.95,199.69 L246.95,199.69 L248.09,199.69 L248.09,196.73 L249.23,196.73 L250.37,196.73 L250.37,192.18 L251.52,192.18 L251.87,192.18 L251.87,189.96 L252.23,189.96 L259.66,189.96 L262.16,189.96 L262.16,188.48 L264.66,188.48 L266.8,188.48 L266.8,188.17 L271.08,188.17 L271.08,187.86 L275.37,187.86 L275.37,187.55 L277.51,187.55 L280.15,187.55 L280.15,185.7 L282.79,185.7 L283.51,185.7 L283.51,183.47 L284.22,183.47 L286.86,183.47 L286.86,179.76 L289.51,179.76 L291.36,179.76 L291.36,178.28 L293.22,178.28 L295.5,178.28 L295.5,176.8 L297.79,176.8 L300.43,176.8 L300.43,173.83 L303.07,173.83 L304.57,173.83 L304.57,172.35 L306.07,172.35 L307.93,172.35 L307.93,167.9 L309.79,167.9 L311.29,167.9 L311.29,166.42 L312.79,166.42 L314.46,166.42 L314.46,164.29 L317.82,164.29 L317.82,162.15 L319.5,162.15 L320.64,162.15 L320.64,158.45 L321.78,158.45 L328.5,158.45 L328.85,158.45 L328.85,156.13 L329.21,156.13 L331.18,156.13 L331.18,156.02 L335.12,156.02 L335.12,155.91 L339.06,155.91 L339.06,155.8 L343.01,155.8 L343.01,155.69 L346.95,155.69 L346.95,155.57 L348.92,155.57 L350.7,155.57 L350.7,154.88 L354.27,154.88 L354.27,154.18 L356.06,154.18" fill="none" stroke="#b495d1" stroke-width="1.0" stroke-opacity="1.0" stroke-linejoin="miter" shape-rendering="crispEdges"/><path d="M213.24,246.87 L213.24,242.23 L214.88,242.23 L214.88,242.14 L216.53,242.14 L217.24,242.14 L217.24,238.52 L217.95,238.52 L218.95,238.52 L218.95,236.21 L219.95,236.21 L221.1,236.21 L221.1,234.72 L222.24,234.72 L223.17,234.72 L223.17,230.65 L225.02,230.65 L225.02,226.57 L225.95,226.57 L228.24,226.57 L228.24,224.62 L230.52,224.62 L232.2,224.62 L232.2,221.84 L235.56,221.84 L235.56,219.06 L237.23,219.06 L239.09,219.06 L239.09,216.1 L240.95,216.1 L242.45,216.1 L242.45,210.81 L243.95,210.81 L245.45,210.81 L245.45,208.59 L246.95,208.59 L247.3,208.59 L247.3,205.62 L247.66,205.62 L249.59,205.62 L249.59,204.14 L251.52,204.14 L253.02,204.14 L253.02,201.92 L254.52,201.92 L256.73,201.92 L256.73,196.73 L258.94,196.73 L261.73,196.73 L261.73,191.26 L264.51,191.26 L265.16,191.26 L265.16,190.24 L265.8,190.24 L267.77,190.24 L267.77,189.96 L271.72,189.96 L271.72,189.68 L275.68,189.68 L275.68,189.4 L277.65,189.4 L279.04,189.4 L279.04,185.7 L281.83,185.7 L281.83,181.99 L283.22,181.99 L284.65,181.99 L284.65,178.28 L287.51,178.28 L287.51,174.57 L288.93,174.57 L290.22,174.57 L290.22,171.24 L292.79,171.24 L292.79,167.9 L294.08,167.9 L296.33,167.9 L296.33,165.68 L300.82,165.68 L300.82,163.45 L303.07,163.45 L305.29,163.45 L305.29,161.14 L307.5,161.14 L309.64,161.14 L309.64,160.36 L313.93,160.36 L313.93,159.59 L318.21,159.59 L318.21,158.82 L320.35,158.82 L322.39,158.82 L322.39,157.47 L326.46,157.47 L326.46,156.13 L328.5,156.13 L348.06,156.13 L350.06,156.13 L350.06,155.16 L354.06,155.16 L354.06,154.18 L356.06,154.18" fill="none" stroke="#ae8981" stroke-width="1.0" stroke-opacity="1.0" stroke-linejoin="miter" shape-rendering="crispEdges"/><path d="M213.24,246.87 L213.6,246.87 L213.6,242.97 L213.96,242.97 L217.67,242.97 L220.67,242.97 L220.67,237.69 L223.67,237.69 L225.17,237.69 L225.17,236.95 L226.67,236.95 L234.24,236.95 L234.59,236.95 L234.59,231.02 L234.95,231.02 L236.45,231.02 L236.45,229.53 L237.95,229.53 L238.31,229.53 L238.31,225.73 L238.66,225.73 L240.59,225.73 L240.59,224.25 L242.52,224.25 L244.02,224.25 L244.02,221.29 L245.52,221.29 L248.52,221.29 L248.52,217.58 L251.52,217.58 L252.23,217.58 L252.23,214.61 L252.94,214.61 L254.52,214.61 L254.52,210.16 L256.09,210.16 L256.37,210.16 L256.37,205.62 L256.66,205.62 L258.16,205.62 L258.16,203.4 L259.66,203.4 L261.94,203.4 L261.94,199.69 L264.23,199.69 L264.23,194.69 L277.65,194.69 L277.65,190.24 L279.37,190.24 L279.37,186.48 L282.79,186.48 L282.79,182.73 L284.51,182.73 L287.08,182.73 L287.08,180.51 L289.65,180.51 L291.68,180.51 L291.68,180.14 L295.75,180.14 L295.75,179.76 L297.79,179.76 L300.43,179.76 L300.43,176.06 L303.07,176.06 L305.29,176.06 L305.29,170.87 L307.5,170.87 L309,170.87 L309,167.9 L310.5,167.9 L313.5,167.9 L313.5,167.34 L316.5,167.34 L318.33,167.34 L318.33,166.36 L322,166.36 L322,165.37 L325.66,165.37 L325.66,164.38 L327.5,164.38 L329.82,164.38 L329.82,163.64 L334.46,163.64 L334.46,162.9 L336.78,162.9 L338.46,162.9 L338.46,161.41 L341.81,161.41 L341.81,159.93 L343.49,159.93 L346.42,159.93 L346.42,156.96 L349.35,156.96 L351.99,156.96 L351.99,154.65 L354.63,154.65 L355.35,154.65 L355.35,154.18 L356.06,154.18" fill="none" stroke="#eba0d4" stroke-width="1.0" stroke-opacity="1.0" stroke-linejoin="miter" shape-rendering="crispEdges"/><path d="M213.24,246.87 L213.24,245.1 L219.95,245.1 L219.95,235.56 L221.81,235.56 L221.81,234.72 L223.67,234.72 L226.05,234.72 L226.05,232.99 L230.81,232.99 L230.81,231.26 L235.57,231.26 L235.57,229.53 L237.95,229.53 L239.84,229.53 L239.84,229.16 L243.63,229.16 L243.63,228.79 L245.52,228.79 L245.87,228.79 L245.87,226.57 L246.23,226.57 L248.09,226.57 L248.09,225.73 L249.95,225.73 L251.44,225.73 L251.44,223.6 L252.94,223.6 L253.73,223.6 L253.73,219.85 L255.3,219.85 L255.3,216.1 L256.09,216.1 L257.51,216.1 L257.51,211.65 L258.94,211.65 L260.44,211.65 L260.44,208.59 L261.94,208.59 L262.69,208.59 L262.69,203.91 L264.19,203.91 L264.19,199.23 L264.94,199.23 L267.01,199.23 L267.01,198.49 L271.15,198.49 L271.15,197.74 L273.22,197.74 L274.37,197.74 L274.37,194.69 L275.51,194.69 L277.4,194.69 L277.4,193.2 L281.19,193.2 L281.19,191.72 L283.08,191.72 L284.58,191.72 L284.58,190.24 L286.08,190.24 L287.58,190.24 L287.58,187.92 L289.08,187.92 L291.33,187.92 L291.33,186.81 L295.83,186.81 L295.83,185.7 L298.07,185.7 L300.29,185.7 L300.29,182.73 L302.5,182.73 L305,182.73 L305,181.99 L307.5,181.99 L308.64,181.99 L308.64,176.06 L309.79,176.06 L311.29,176.06 L311.29,173.83 L312.79,173.83 L314.28,173.83 L314.28,171.52 L315.78,171.52 L317.28,171.52 L317.28,167.34 L318.78,167.34 L319.93,167.34 L319.93,165.03 L321.07,165.03 L328.5,165.03 L330.76,165.03 L330.76,163.58 L335.28,163.58 L335.28,162.12 L339.8,162.12 L339.8,160.67 L342.06,160.67 L343.74,160.67 L343.74,158.03 L347.1,158.03 L347.1,155.39 L348.78,155.39 L350.6,155.39 L350.6,154.79 L354.24,154.79 L354.24,154.18 L356.06,154.18" fill="none" stroke="#a5a5a5" stroke-width="1.0" stroke-opacity="1.0" stroke-linejoin="miter" shape-rendering="crispEdges"/><rect x="206.1" y="149.55" width="157.1" height="101.95" fill="none" stroke="#bcbcbc" stroke-width="1.0"/><line x1="204.5" y1="246.87" x2="206.1" y2="246.87" stroke="#a8a8a8" stroke-width="0.5"/><line x1="213.24" y1="251.5" x2="213.24" y2="253.1" stroke="#a8a8a8" stroke-width="0.5"/><text x="204.7" y="248.67" font-size="4.5" fill="#333" stroke="#333" stroke-width="0.06" text-anchor="end" textLength="6.28" lengthAdjust="spacingAndGlyphs">0.0</text><text x="213.24" y="256.6" font-size="4.5" fill="#333" stroke="#333" stroke-width="0.06" text-anchor="middle" textLength="6.28" lengthAdjust="spacingAndGlyphs">0.0</text><line x1="204.5" y1="228.33" x2="206.1" y2="228.33" stroke="#a8a8a8" stroke-width="0.5"/><line x1="241.8" y1="251.5" x2="241.8" y2="253.1" stroke="#a8a8a8" stroke-width="0.5"/><text x="204.7" y="230.13" font-size="4.5" fill="#333" stroke="#333" stroke-width="0.06" text-anchor="end" textLength="6.28" lengthAdjust="spacingAndGlyphs">0.2</text><text x="241.8" y="256.6" font-size="4.5" fill="#333" stroke="#333" stroke-width="0.06" text-anchor="middle" textLength="6.28" lengthAdjust="spacingAndGlyphs">0.2</text><line x1="204.5" y1="209.79" x2="206.1" y2="209.79" stroke="#a8a8a8" stroke-width="0.5"/><line x1="270.37" y1="251.5" x2="270.37" y2="253.1" stroke="#a8a8a8" stroke-width="0.5"/><text x="204.7" y="211.59" font-size="4.5" fill="#333" stroke="#333" stroke-width="0.06" text-anchor="end" textLength="6.28" lengthAdjust="spacingAndGlyphs">0.4</text><text x="270.37" y="256.6" font-size="4.5" fill="#333" stroke="#333" stroke-width="0.06" text-anchor="middle" textLength="6.28" lengthAdjust="spacingAndGlyphs">0.4</text><line x1="204.5" y1="191.26" x2="206.1" y2="191.26" stroke="#a8a8a8" stroke-width="0.5"/><line x1="298.93" y1="251.5" x2="298.93" y2="253.1" stroke="#a8a8a8" stroke-width="0.5"/><text x="204.7" y="193.06" font-size="4.5" fill="#333" stroke="#333" stroke-width="0.06" text-anchor="end" textLength="6.28" lengthAdjust="spacingAndGlyphs">0.6</text><text x="298.93" y="256.6" font-size="4.5" fill="#333" stroke="#333" stroke-width="0.06" text-anchor="middle" textLength="6.28" lengthAdjust="spacingAndGlyphs">0.6</text><line x1="204.5" y1="172.72" x2="206.1" y2="172.72" stroke="#a8a8a8" stroke-width="0.5"/><line x1="327.5" y1="251.5" x2="327.5" y2="253.1" stroke="#a8a8a8" stroke-width="0.5"/><text x="204.7" y="174.52" font-size="4.5" fill="#333" stroke="#333" stroke-width="0.06" text-anchor="end" textLength="6.28" lengthAdjust="spacingAndGlyphs">0.8</text><text x="327.5" y="256.6" font-size="4.5" fill="#333" stroke="#333" stroke-width="0.06" text-anchor="middle" textLength="6.28" lengthAdjust="spacingAndGlyphs">0.8</text><line x1="204.5" y1="154.18" x2="206.1" y2="154.18" stroke="#a8a8a8" stroke-width="0.5"/><line x1="356.06" y1="251.5" x2="356.06" y2="253.1" stroke="#a8a8a8" stroke-width="0.5"/><text x="204.7" y="155.98" font-size="4.5" fill="#333" stroke="#333" stroke-width="0.06" text-anchor="end" textLength="6.28" lengthAdjust="spacingAndGlyphs">1.0</text><text x="356.06" y="256.6" font-size="4.5" fill="#333" stroke="#333" stroke-width="0.06" text-anchor="middle" textLength="6.28" lengthAdjust="spacingAndGlyphs">1.0</text><text x="284.65" y="148.95" font-size="5.7" fill="#2a2a2a" stroke="#2a2a2a" stroke-width="0.04" text-anchor="middle" textLength="110.5" lengthAdjust="spacingAndGlyphs">Prediction for eGFR&lt;GFR45ml/min/1.73m2</text><rect x="281.3" y="198.9" width="80.4" height="51.0" rx="1" fill="#fff" fill-opacity="0.85"/><line x1="283.1" y1="204.34" x2="291.8" y2="204.34" stroke="#1f77b4" stroke-width="0.8" stroke-opacity="0.7"/><text x="294.6" y="205.94" font-size="4.5" fill="#262626" stroke="#262626" stroke-width="0.03" textLength="63.54" lengthAdjust="spacingAndGlyphs">Surface volume ratio&#160;&#160;AUC: 0.74</text><line x1="283.1" y1="210.57" x2="291.8" y2="210.57" stroke="#ff7f0e" stroke-width="0.8" stroke-opacity="0.7"/><text x="294.6" y="212.17" font-size="4.5" fill="#262626" stroke="#262626" stroke-width="0.03" textLength="48.53" lengthAdjust="spacingAndGlyphs">Mesh volume&#160;&#160;AUC: 0.73</text><line x1="283.1" y1="216.8" x2="291.8" y2="216.8" stroke="#2ca02c" stroke-width="0.8" stroke-opacity="0.7"/><text x="294.6" y="218.4" font-size="4.5" fill="#262626" stroke="#262626" stroke-width="0.03" textLength="65.7" lengthAdjust="spacingAndGlyphs">Maximum3DDiameter&#160;&#160;AUC: 0.69</text><line x1="283.1" y1="223.03" x2="291.8" y2="223.03" stroke="#d62728" stroke-width="0.8" stroke-opacity="0.7"/><text x="294.6" y="224.63" font-size="4.5" fill="#262626" stroke="#262626" stroke-width="0.03" textLength="55.11" lengthAdjust="spacingAndGlyphs">MinorAxisLength&#160;&#160;AUC: 0.73</text><line x1="283.1" y1="229.26" x2="291.8" y2="229.26" stroke="#9467bd" stroke-width="0.8" stroke-opacity="0.7"/><text x="294.6" y="230.86" font-size="4.5" fill="#262626" stroke="#262626" stroke-width="0.03" textLength="55.03" lengthAdjust="spacingAndGlyphs">MajorAxisLength&#160;&#160;AUC: 0.68</text><line x1="283.1" y1="235.49" x2="291.8" y2="235.49" stroke="#8c564b" stroke-width="0.8" stroke-opacity="0.7"/><text x="294.6" y="237.09" font-size="4.5" fill="#262626" stroke="#262626" stroke-width="0.03" textLength="42.07" lengthAdjust="spacingAndGlyphs">Sphericity&#160;&#160;AUC: 0.65</text><line x1="283.1" y1="241.72" x2="291.8" y2="241.72" stroke="#e377c2" stroke-width="0.8" stroke-opacity="0.7"/><text x="294.6" y="243.32" font-size="4.5" fill="#262626" stroke="#262626" stroke-width="0.03" textLength="38.63" lengthAdjust="spacingAndGlyphs">Flatness&#160;&#160;AUC: 0.58</text><line x1="283.1" y1="247.95" x2="291.8" y2="247.95" stroke="#7f7f7f" stroke-width="0.8" stroke-opacity="0.7"/><text x="294.6" y="249.55" font-size="4.5" fill="#262626" stroke="#262626" stroke-width="0.03" textLength="43.25" lengthAdjust="spacingAndGlyphs">Elongation&#160;&#160;AUC: 0.55</text><text x="191" y="144.2" font-size="13.2" font-weight="bold" fill="#000">E</text></g>
<g><line x1="393.44" y1="149.55" x2="393.44" y2="251.5" stroke="#ececec" stroke-width="0.6"/><line x1="386.3" y1="246.87" x2="543.4" y2="246.87" stroke="#ececec" stroke-width="0.6"/><line x1="422" y1="149.55" x2="422" y2="251.5" stroke="#ececec" stroke-width="0.6"/><line x1="386.3" y1="228.33" x2="543.4" y2="228.33" stroke="#ececec" stroke-width="0.6"/><line x1="450.57" y1="149.55" x2="450.57" y2="251.5" stroke="#ececec" stroke-width="0.6"/><line x1="386.3" y1="209.79" x2="543.4" y2="209.79" stroke="#ececec" stroke-width="0.6"/><line x1="479.13" y1="149.55" x2="479.13" y2="251.5" stroke="#ececec" stroke-width="0.6"/><line x1="386.3" y1="191.26" x2="543.4" y2="191.26" stroke="#ececec" stroke-width="0.6"/><line x1="507.7" y1="149.55" x2="507.7" y2="251.5" stroke="#ececec" stroke-width="0.6"/><line x1="386.3" y1="172.72" x2="543.4" y2="172.72" stroke="#ececec" stroke-width="0.6"/><line x1="536.26" y1="149.55" x2="536.26" y2="251.5" stroke="#ececec" stroke-width="0.6"/><line x1="386.3" y1="154.18" x2="543.4" y2="154.18" stroke="#ececec" stroke-width="0.6"/><line x1="393.44" y1="246.87" x2="536.26" y2="154.18" stroke="#dcdcdc" stroke-width="0.6"/><path d="M393.44,246.87 L393.44,210.81 L397.01,210.81 L397.01,204.14 L397.37,204.14 L397.37,201.17 L397.73,201.17 L406.01,201.17 L408.29,201.17 L408.29,198.95 L410.58,198.95 L412.36,198.95 L412.36,196.73 L414.15,196.73 L416.08,196.73 L416.08,193.76 L418.01,193.76 L418.36,193.76 L418.36,189.63 L419.08,189.63 L419.08,185.51 L419.43,185.51 L421.72,185.51 L421.72,181.25 L424,181.25 L424.93,181.25 L424.93,177.91 L426.79,177.91 L426.79,174.57 L427.72,174.57 L429.79,174.57 L429.79,171.98 L433.93,171.98 L433.93,169.38 L436,169.38 L439,169.38 L439,167.07 L442,167.07 L443.5,167.07 L443.5,166.42 L445,166.42 L447.07,166.42 L447.07,163.78 L451.21,163.78 L451.21,161.14 L453.28,161.14 L453.64,161.14 L453.64,158.91 L454,158.91 L456,158.91 L456,158.42 L459.99,158.42 L459.99,157.92 L463.99,157.92 L463.99,157.43 L465.99,157.43 L466.78,157.43 L466.78,155.95 L467.56,155.95 L469.66,155.95 L469.66,155.78 L473.86,155.78 L473.86,155.61 L478.06,155.61 L478.06,155.44 L482.26,155.44 L482.26,155.28 L486.46,155.28 L486.46,155.11 L488.56,155.11 L490.99,155.11 L490.99,154.65 L493.41,154.65 L495.56,154.65 L495.56,154.6 L499.84,154.6 L499.84,154.55 L504.12,154.55 L504.12,154.51 L508.41,154.51 L508.41,154.46 L512.69,154.46 L512.69,154.42 L516.98,154.42 L516.98,154.37 L521.26,154.37 L521.26,154.32 L525.55,154.32 L525.55,154.28 L529.83,154.28 L529.83,154.23 L534.12,154.23 L534.12,154.18 L536.26,154.18" fill="none" stroke="#62a0ca" stroke-width="1.0" stroke-opacity="1.0" stroke-linejoin="miter" shape-rendering="crispEdges"/><path d="M393.44,246.87 L393.44,237.6 L395.23,237.6 L395.23,233.98 L397.01,233.98 L397.01,205.16 L397.73,205.16 L397.73,201.17 L398.44,201.17 L400.72,201.17 L400.72,198.67 L403.01,198.67 L403.01,190.7 L405.22,190.7 L405.22,187.73 L407.44,187.73 L409.01,187.73 L409.01,185.23 L410.58,185.23 L412.36,185.23 L412.36,183.61 L415.93,183.61 L415.93,181.99 L417.72,181.99 L420.86,181.99 L420.86,179.02 L424,179.02 L426.57,179.02 L426.57,174.57 L429.15,174.57 L430.57,174.57 L430.57,169.01 L432,169.01 L434,169.01 L434,164.84 L436,164.84 L439,164.84 L439,164.1 L442,164.1 L465.99,164.1 L466.78,164.1 L466.78,158.91 L467.56,158.91 L469.71,158.91 L469.71,158.77 L473.99,158.77 L473.99,158.63 L478.27,158.63 L478.27,158.49 L482.56,158.49 L482.56,158.35 L484.7,158.35 L484.7,154.46 L486.85,154.46 L486.85,154.44 L491.15,154.44 L491.15,154.42 L495.44,154.42 L495.44,154.39 L499.74,154.39 L499.74,154.37 L504.04,154.37 L504.04,154.35 L508.33,154.35 L508.33,154.32 L512.63,154.32 L512.63,154.3 L516.93,154.3 L516.93,154.28 L521.22,154.28 L521.22,154.25 L525.52,154.25 L525.52,154.23 L529.81,154.23 L529.81,154.21 L534.11,154.21 L534.11,154.18 L536.26,154.18" fill="none" stroke="#ffa556" stroke-width="1.0" stroke-opacity="1.0" stroke-linejoin="miter" shape-rendering="crispEdges"/><path d="M393.44,246.87 L393.44,237.6 L393.62,237.6 L393.62,232.96 L393.98,232.96 L393.98,228.33 L394.33,228.33 L394.33,223.7 L394.69,223.7 L394.69,219.06 L394.87,219.06 L395.15,219.06 L395.15,214.74 L395.73,214.74 L395.73,210.42 L396.3,210.42 L396.3,206.1 L396.87,206.1 L396.87,201.79 L397.44,201.79 L397.44,197.47 L397.73,197.47 L399.8,197.47 L399.8,194.45 L403.94,194.45 L403.94,191.44 L406.01,191.44 L408.29,191.44 L408.29,189.77 L410.58,189.77 L411.65,189.77 L411.65,189.22 L412.72,189.22 L415.72,189.22 L415.72,187.73 L418.72,187.73 L419.08,187.73 L419.08,183.47 L419.43,183.47 L421.86,183.47 L421.86,180.51 L426.72,180.51 L426.72,177.54 L429.15,177.54 L431.64,177.54 L431.64,176.98 L436.64,176.98 L436.64,176.43 L439.14,176.43 L442.07,176.43 L442.07,173.09 L445,173.09 L447.26,173.09 L447.26,172.97 L451.78,172.97 L451.78,172.84 L456.3,172.84 L456.3,172.72 L458.57,172.72 L458.57,166.42 L460.74,166.42 L460.74,165.82 L465.08,165.82 L465.08,165.23 L469.42,165.23 L469.42,164.64 L473.76,164.64 L473.76,164.05 L478.1,164.05 L478.1,163.45 L480.27,163.45 L480.63,163.45 L480.63,161.88 L480.99,161.88 L483.32,161.88 L483.32,161.72 L487.99,161.72 L487.99,161.57 L492.65,161.57 L492.65,161.41 L494.98,161.41 L498.13,161.41 L498.13,161.14 L501.27,161.14 L501.63,161.14 L501.63,157.89 L501.98,157.89 L504.12,157.89 L504.12,156.96 L508.41,156.96 L508.41,156.04 L512.69,156.04 L512.69,155.11 L514.84,155.11 L516.98,155.11 L516.98,154.93 L521.26,154.93 L521.26,154.74 L525.55,154.74 L525.55,154.55 L529.83,154.55 L529.83,154.37 L534.12,154.37 L534.12,154.18 L536.26,154.18" fill="none" stroke="#6bbc6b" stroke-width="1.0" stroke-opacity="1.0" stroke-linejoin="miter" shape-rendering="crispEdges"/><path d="M393.44,246.87 L393.44,242.23 L395.58,242.23 L395.58,237.6 L397.73,237.6 L397.73,224.25 L401.44,224.25 L401.44,213.13 L403.33,213.13 L403.33,211.97 L407.12,211.97 L407.12,210.81 L409.01,210.81 L410.08,210.81 L410.08,209.33 L411.15,209.33 L412.65,209.33 L412.65,206.36 L414.15,206.36 L415.29,206.36 L415.29,204.14 L416.43,204.14 L417.58,204.14 L417.58,198.95 L418.72,198.95 L419.86,198.95 L419.86,195.98 L421,195.98 L422.5,195.98 L422.5,192.28 L424,192.28 L425.86,192.28 L425.86,189.96 L427.72,189.96 L428.07,189.96 L428.07,184.77 L428.43,184.77 L428.43,181.99 L432.29,181.99 L432.29,167.07 L441.28,167.07 L441.28,164.1 L445,164.1 L447.28,164.1 L447.28,161.14 L449.57,161.14 L452.17,161.14 L452.17,160.39 L457.39,160.39 L457.39,159.65 L459.99,159.65 L462.06,159.65 L462.06,159.55 L466.18,159.55 L466.18,159.44 L470.3,159.44 L470.3,159.34 L474.43,159.34 L474.43,159.24 L478.55,159.24 L478.55,159.13 L482.68,159.13 L482.68,159.03 L486.8,159.03 L486.8,158.92 L490.92,158.92 L490.92,158.82 L492.99,158.82 L492.99,155.11 L495.16,155.11 L495.16,155.04 L499.5,155.04 L499.5,154.98 L503.85,154.98 L503.85,154.91 L508.2,154.91 L508.2,154.85 L512.54,154.85 L512.54,154.78 L516.89,154.78 L516.89,154.71 L521.23,154.71 L521.23,154.65 L523.41,154.65 L525.55,154.65 L525.55,154.49 L529.83,154.49 L529.83,154.34 L534.12,154.34 L534.12,154.18 L536.26,154.18" fill="none" stroke="#e26868" stroke-width="1.0" stroke-opacity="1.0" stroke-linejoin="miter" shape-rendering="crispEdges"/><path d="M393.44,246.87 L393.44,222.77 L397.73,222.77 L397.73,202.38 L399.4,202.38 L399.4,198.07 L402.76,198.07 L402.76,193.76 L404.44,193.76 L406.08,193.76 L406.08,191.26 L407.72,191.26 L409.72,191.26 L409.72,189.13 L413.72,189.13 L413.72,186.99 L415.72,186.99 L417.4,186.99 L417.4,186.39 L420.75,186.39 L420.75,185.79 L422.43,185.79 L424.19,185.79 L424.19,185.29 L427.72,185.29 L427.72,184.8 L431.24,184.8 L431.24,184.31 L433,184.31 L434.5,184.31 L434.5,181.99 L436,181.99 L437.86,181.99 L437.86,179.02 L439.71,179.02 L442,179.02 L442,175.32 L444.28,175.32 L444.64,175.32 L444.64,174.57 L445,174.57 L447.26,174.57 L447.26,174.08 L451.78,174.08 L451.78,173.59 L456.3,173.59 L456.3,173.09 L458.57,173.09 L460.8,173.09 L460.8,170.37 L465.28,170.37 L465.28,167.65 L469.75,167.65 L469.75,164.94 L471.99,164.94 L474.06,164.94 L474.06,163.41 L478.2,163.41 L478.2,161.88 L480.27,161.88 L482.7,161.88 L482.7,160.39 L487.56,160.39 L487.56,158.91 L489.99,158.91 L492.49,158.91 L492.49,158.45 L494.98,158.45 L496.66,158.45 L496.66,157.29 L500.02,157.29 L500.02,156.13 L501.7,156.13 L503.87,156.13 L503.87,155.93 L508.21,155.93 L508.21,155.72 L512.55,155.72 L512.55,155.52 L516.89,155.52 L516.89,155.31 L521.23,155.31 L521.23,155.11 L523.41,155.11 L525.55,155.11 L525.55,154.8 L529.83,154.8 L529.83,154.49 L534.12,154.49 L534.12,154.18 L536.26,154.18" fill="none" stroke="#b495d1" stroke-width="1.0" stroke-opacity="1.0" stroke-linejoin="miter" shape-rendering="crispEdges"/><path d="M393.44,246.87 L393.73,246.87 L393.73,245.94 L394.01,245.94 L395.87,245.94 L395.87,242.23 L399.58,242.23 L399.58,238.52 L401.44,238.52 L402.37,238.52 L402.37,233.66 L404.22,233.66 L404.22,228.79 L405.15,228.79 L407.87,228.79 L407.87,225.73 L410.58,225.73 L411.69,225.73 L411.69,222.4 L413.9,222.4 L413.9,219.06 L415.01,219.06 L415.01,216.1 L417.22,216.1 L417.22,210.81 L419.43,210.81 L421.29,210.81 L421.29,209.33 L423.15,209.33 L425.08,209.33 L425.08,207.11 L427,207.11 L429.65,207.11 L429.65,205.62 L432.29,205.62 L432.47,205.62 L432.47,201.92 L432.82,201.92 L432.82,198.21 L433,198.21 L434.5,198.21 L434.5,196.73 L436,196.73 L437.75,196.73 L437.75,194.5 L441.25,194.5 L441.25,192.28 L443,192.28 L444.64,192.28 L444.64,189.4 L446.28,189.4 L447.93,189.4 L447.93,185.79 L449.57,185.79 L450.89,185.79 L450.89,181.57 L453.53,181.57 L453.53,177.35 L454.85,177.35 L456.14,177.35 L456.14,172.95 L458.71,172.95 L458.71,168.55 L459.99,168.55 L461.99,168.55 L461.99,167.78 L465.99,167.78 L465.99,167.01 L469.99,167.01 L469.99,166.23 L471.99,166.23 L474.09,166.23 L474.09,165.36 L478.29,165.36 L478.29,164.49 L482.49,164.49 L482.49,163.62 L486.69,163.62 L486.69,162.75 L490.89,162.75 L490.89,161.88 L492.99,161.88 L506.27,161.88 L508.5,161.88 L508.5,161.23 L512.98,161.23 L512.98,160.58 L517.45,160.58 L517.45,159.93 L519.69,159.93 L521.55,159.93 L521.55,156.96 L523.41,156.96 L525.55,156.96 L525.55,156.04 L529.83,156.04 L529.83,155.11 L534.12,155.11 L534.12,154.18 L536.26,154.18" fill="none" stroke="#ae8981" stroke-width="1.0" stroke-opacity="1.0" stroke-linejoin="miter" shape-rendering="crispEdges"/><path d="M393.44,246.87 L395.94,246.87 L395.94,242.14 L398.44,242.14 L400.69,242.14 L400.69,239.91 L405.19,239.91 L405.19,237.69 L407.44,237.69 L409.26,237.69 L409.26,234.72 L412.9,234.72 L412.9,231.76 L414.72,231.76 L414.77,231.76 L414.77,227.53 L414.86,227.53 L414.86,223.29 L414.96,223.29 L414.96,219.06 L415.01,219.06 L416.43,219.06 L418.36,219.06 L418.36,214.61 L420.29,214.61 L422.15,214.61 L422.15,211.65 L424,211.65 L425.86,211.65 L425.86,208.59 L427.72,208.59 L430,208.59 L430,205.16 L432.29,205.16 L432.29,195.24 L434.72,195.24 L434.72,193.34 L439.57,193.34 L439.57,191.44 L442,191.44 L443.5,191.44 L443.5,190.98 L445,190.98 L447.64,190.98 L447.64,184.95 L450.28,184.95 L452.35,184.95 L452.35,183.1 L456.5,183.1 L456.5,181.25 L458.57,181.25 L460.82,181.25 L460.82,179.39 L465.31,179.39 L465.31,177.54 L467.56,177.54 L469.56,177.54 L469.56,175.32 L473.56,175.32 L473.56,173.09 L477.56,173.09 L477.56,170.87 L479.56,170.87 L481.8,170.87 L481.8,170.37 L486.27,170.37 L486.27,169.88 L490.75,169.88 L490.75,169.38 L492.99,169.38 L495.13,169.38 L495.13,164.94 L497.27,164.94 L499.7,164.94 L499.7,163.54 L504.55,163.54 L504.55,162.15 L506.98,162.15 L509.05,162.15 L509.05,160.3 L513.19,160.3 L513.19,158.45 L515.26,158.45 L517.3,158.45 L517.3,158.03 L521.37,158.03 L521.37,157.61 L523.41,157.61 L526.26,157.61 L526.26,155.11 L529.12,155.11 L530.9,155.11 L530.9,154.65 L534.47,154.65 L534.47,154.18 L536.26,154.18" fill="none" stroke="#eba0d4" stroke-width="1.0" stroke-opacity="1.0" stroke-linejoin="miter" shape-rendering="crispEdges"/><path d="M393.44,246.87 L395.44,246.87 L395.44,245.66 L399.44,245.66 L399.44,244.46 L401.44,244.46 L404.08,244.46 L404.08,239.17 L406.72,239.17 L408.97,239.17 L408.97,236.58 L413.47,236.58 L413.47,233.98 L415.72,233.98 L418.01,233.98 L418.01,229.53 L420.29,229.53 L428.43,229.53 L430.36,229.53 L430.36,228.05 L432.29,228.05 L432.29,213.78 L434.25,213.78 L434.25,213.41 L438.18,213.41 L438.18,213.04 L442.11,213.04 L442.11,212.67 L446.03,212.67 L446.03,212.3 L448,212.3 L448.78,212.3 L448.78,209.61 L449.57,209.61 L458.57,209.61 L458.57,191.72 L465.99,191.72 L465.99,187.27 L468.24,187.27 L468.24,186.11 L472.74,186.11 L472.74,184.95 L474.99,184.95 L476.74,184.95 L476.74,183.47 L480.24,183.47 L480.24,181.99 L481.99,181.99 L482.88,181.99 L482.88,177.17 L484.67,177.17 L484.67,172.35 L485.56,172.35 L487.42,172.35 L487.42,171.61 L491.13,171.61 L491.13,170.87 L492.99,170.87 L495.2,170.87 L495.2,170.71 L499.63,170.71 L499.63,170.56 L504.05,170.56 L504.05,170.4 L506.27,170.4 L506.27,165.12 L508.52,165.12 L508.52,162.9 L513.02,162.9 L513.02,160.67 L515.26,160.67 L523.41,160.67 L523.41,155.48 L525.55,155.48 L525.55,155.05 L529.83,155.05 L529.83,154.62 L534.12,154.62 L534.12,154.18 L536.26,154.18" fill="none" stroke="#a5a5a5" stroke-width="1.0" stroke-opacity="1.0" stroke-linejoin="miter" shape-rendering="crispEdges"/><rect x="386.3" y="149.55" width="157.1" height="101.95" fill="none" stroke="#bcbcbc" stroke-width="1.0"/><line x1="384.7" y1="246.87" x2="386.3" y2="246.87" stroke="#a8a8a8" stroke-width="0.5"/><line x1="393.44" y1="251.5" x2="393.44" y2="253.1" stroke="#a8a8a8" stroke-width="0.5"/><text x="384.9" y="248.67" font-size="4.5" fill="#333" stroke="#333" stroke-width="0.06" text-anchor="end" textLength="6.28" lengthAdjust="spacingAndGlyphs">0.0</text><text x="393.44" y="256.6" font-size="4.5" fill="#333" stroke="#333" stroke-width="0.06" text-anchor="middle" textLength="6.28" lengthAdjust="spacingAndGlyphs">0.0</text><line x1="384.7" y1="228.33" x2="386.3" y2="228.33" stroke="#a8a8a8" stroke-width="0.5"/><line x1="422" y1="251.5" x2="422" y2="253.1" stroke="#a8a8a8" stroke-width="0.5"/><text x="384.9" y="230.13" font-size="4.5" fill="#333" stroke="#333" stroke-width="0.06" text-anchor="end" textLength="6.28" lengthAdjust="spacingAndGlyphs">0.2</text><text x="422" y="256.6" font-size="4.5" fill="#333" stroke="#333" stroke-width="0.06" text-anchor="middle" textLength="6.28" lengthAdjust="spacingAndGlyphs">0.2</text><line x1="384.7" y1="209.79" x2="386.3" y2="209.79" stroke="#a8a8a8" stroke-width="0.5"/><line x1="450.57" y1="251.5" x2="450.57" y2="253.1" stroke="#a8a8a8" stroke-width="0.5"/><text x="384.9" y="211.59" font-size="4.5" fill="#333" stroke="#333" stroke-width="0.06" text-anchor="end" textLength="6.28" lengthAdjust="spacingAndGlyphs">0.4</text><text x="450.57" y="256.6" font-size="4.5" fill="#333" stroke="#333" stroke-width="0.06" text-anchor="middle" textLength="6.28" lengthAdjust="spacingAndGlyphs">0.4</text><line x1="384.7" y1="191.26" x2="386.3" y2="191.26" stroke="#a8a8a8" stroke-width="0.5"/><line x1="479.13" y1="251.5" x2="479.13" y2="253.1" stroke="#a8a8a8" stroke-width="0.5"/><text x="384.9" y="193.06" font-size="4.5" fill="#333" stroke="#333" stroke-width="0.06" text-anchor="end" textLength="6.28" lengthAdjust="spacingAndGlyphs">0.6</text><text x="479.13" y="256.6" font-size="4.5" fill="#333" stroke="#333" stroke-width="0.06" text-anchor="middle" textLength="6.28" lengthAdjust="spacingAndGlyphs">0.6</text><line x1="384.7" y1="172.72" x2="386.3" y2="172.72" stroke="#a8a8a8" stroke-width="0.5"/><line x1="507.7" y1="251.5" x2="507.7" y2="253.1" stroke="#a8a8a8" stroke-width="0.5"/><text x="384.9" y="174.52" font-size="4.5" fill="#333" stroke="#333" stroke-width="0.06" text-anchor="end" textLength="6.28" lengthAdjust="spacingAndGlyphs">0.8</text><text x="507.7" y="256.6" font-size="4.5" fill="#333" stroke="#333" stroke-width="0.06" text-anchor="middle" textLength="6.28" lengthAdjust="spacingAndGlyphs">0.8</text><line x1="384.7" y1="154.18" x2="386.3" y2="154.18" stroke="#a8a8a8" stroke-width="0.5"/><line x1="536.26" y1="251.5" x2="536.26" y2="253.1" stroke="#a8a8a8" stroke-width="0.5"/><text x="384.9" y="155.98" font-size="4.5" fill="#333" stroke="#333" stroke-width="0.06" text-anchor="end" textLength="6.28" lengthAdjust="spacingAndGlyphs">1.0</text><text x="536.26" y="256.6" font-size="4.5" fill="#333" stroke="#333" stroke-width="0.06" text-anchor="middle" textLength="6.28" lengthAdjust="spacingAndGlyphs">1.0</text><text x="464.85" y="148.95" font-size="5.7" fill="#2a2a2a" stroke="#2a2a2a" stroke-width="0.04" text-anchor="middle" textLength="110.5" lengthAdjust="spacingAndGlyphs">Prediction for eGFR&lt;GFR60ml/min/1.73m2</text><rect x="461.5" y="198.9" width="80.4" height="51.0" rx="1" fill="#fff" fill-opacity="0.85"/><line x1="463.3" y1="204.34" x2="472" y2="204.34" stroke="#1f77b4" stroke-width="0.8" stroke-opacity="0.7"/><text x="474.8" y="205.94" font-size="4.5" fill="#262626" stroke="#262626" stroke-width="0.03" textLength="63.54" lengthAdjust="spacingAndGlyphs">Surface volume ratio&#160;&#160;AUC: 0.85</text><line x1="463.3" y1="210.57" x2="472" y2="210.57" stroke="#ff7f0e" stroke-width="0.8" stroke-opacity="0.7"/><text x="474.8" y="212.17" font-size="4.5" fill="#262626" stroke="#262626" stroke-width="0.03" textLength="48.53" lengthAdjust="spacingAndGlyphs">Mesh volume&#160;&#160;AUC: 0.85</text><line x1="463.3" y1="216.8" x2="472" y2="216.8" stroke="#2ca02c" stroke-width="0.8" stroke-opacity="0.7"/><text x="474.8" y="218.4" font-size="4.5" fill="#262626" stroke="#262626" stroke-width="0.03" textLength="65.7" lengthAdjust="spacingAndGlyphs">Maximum3DDiameter&#160;&#160;AUC: 0.82</text><line x1="463.3" y1="223.03" x2="472" y2="223.03" stroke="#d62728" stroke-width="0.8" stroke-opacity="0.7"/><text x="474.8" y="224.63" font-size="4.5" fill="#262626" stroke="#262626" stroke-width="0.03" textLength="52.6" lengthAdjust="spacingAndGlyphs">MinorAxisLength&#160;&#160;AUC: 0.8</text><line x1="463.3" y1="229.26" x2="472" y2="229.26" stroke="#9467bd" stroke-width="0.8" stroke-opacity="0.7"/><text x="474.8" y="230.86" font-size="4.5" fill="#262626" stroke="#262626" stroke-width="0.03" textLength="52.52" lengthAdjust="spacingAndGlyphs">MajorAxisLength&#160;&#160;AUC: 0.8</text><line x1="463.3" y1="235.49" x2="472" y2="235.49" stroke="#8c564b" stroke-width="0.8" stroke-opacity="0.7"/><text x="474.8" y="237.09" font-size="4.5" fill="#262626" stroke="#262626" stroke-width="0.03" textLength="42.07" lengthAdjust="spacingAndGlyphs">Sphericity&#160;&#160;AUC: 0.67</text><line x1="463.3" y1="241.72" x2="472" y2="241.72" stroke="#e377c2" stroke-width="0.8" stroke-opacity="0.7"/><text x="474.8" y="243.32" font-size="4.5" fill="#262626" stroke="#262626" stroke-width="0.03" textLength="38.63" lengthAdjust="spacingAndGlyphs">Flatness&#160;&#160;AUC: 0.63</text><line x1="463.3" y1="247.95" x2="472" y2="247.95" stroke="#7f7f7f" stroke-width="0.8" stroke-opacity="0.7"/><text x="474.8" y="249.55" font-size="4.5" fill="#262626" stroke="#262626" stroke-width="0.03" textLength="43.25" lengthAdjust="spacingAndGlyphs">Elongation&#160;&#160;AUC: 0.53</text><text x="371.2" y="148.5" font-size="13.2" font-weight="bold" fill="#000">F</text></g>
</svg></body></html>
